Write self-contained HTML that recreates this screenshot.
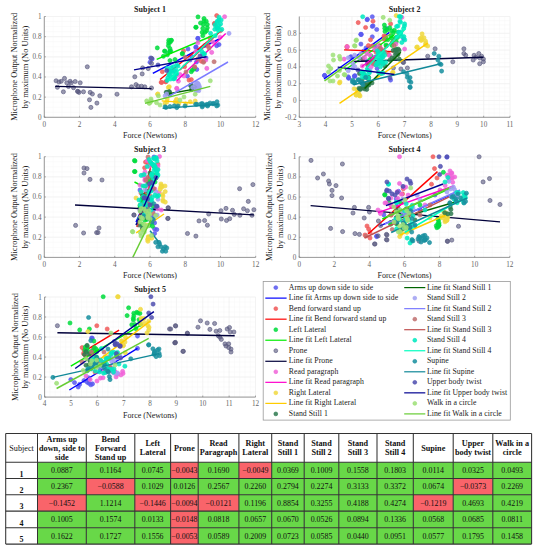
<!DOCTYPE html>
<html><head><meta charset="utf-8"><style>
html,body{margin:0;padding:0;background:#fff;width:538px;height:550px;overflow:hidden}
svg text{font-family:"Liberation Serif", serif}
.arms{fill:#5a5af0;fill-opacity:0.86;stroke:#5a5af0;stroke-opacity:0.9;stroke-width:0.7px}.bend{fill:#f05a5a;fill-opacity:0.86;stroke:#f05a5a;stroke-opacity:0.9;stroke-width:0.7px}.left{fill:#00dc3c;fill-opacity:0.86;stroke:#00dc3c;stroke-opacity:0.9;stroke-width:0.7px}.prone{fill:#5a5a80;fill-opacity:0.62;stroke:#5a5a80;stroke-opacity:0.9;stroke-width:0.7px}.read{fill:#f064d8;fill-opacity:0.86;stroke:#f064d8;stroke-opacity:0.9;stroke-width:0.7px}.right{fill:#f0d840;fill-opacity:0.86;stroke:#f0d840;stroke-opacity:0.9;stroke-width:0.7px}.ss1{fill:#2e7a50;fill-opacity:0.86;stroke:#2e7a50;stroke-opacity:0.9;stroke-width:0.7px}.ss2{fill:#a0a0f2;fill-opacity:0.86;stroke:#a0a0f2;stroke-opacity:0.9;stroke-width:0.7px}.ss3{fill:#c07070;fill-opacity:0.86;stroke:#c07070;stroke-opacity:0.9;stroke-width:0.7px}.ss4{fill:#00e8c0;fill-opacity:0.86;stroke:#00e8c0;stroke-opacity:0.9;stroke-width:0.7px}.sup{fill:#1a90a0;fill-opacity:0.86;stroke:#1a90a0;stroke-opacity:0.9;stroke-width:0.7px}.ubt{fill:#5050b0;fill-opacity:0.86;stroke:#5050b0;stroke-opacity:0.9;stroke-width:0.7px}.walk{fill:#9ee078;fill-opacity:0.86;stroke:#9ee078;stroke-opacity:0.9;stroke-width:0.7px}
</style></head><body>
<svg width="538" height="550" viewBox="0 0 538 550" style="position:absolute;left:0;top:0"><line x1="44.30" y1="16.5" x2="44.30" y2="117.3" stroke="#f6f6f6" stroke-width="0.5"/><line x1="53.11" y1="16.5" x2="53.11" y2="117.3" stroke="#f6f6f6" stroke-width="0.5"/><line x1="61.92" y1="16.5" x2="61.92" y2="117.3" stroke="#f6f6f6" stroke-width="0.5"/><line x1="70.72" y1="16.5" x2="70.72" y2="117.3" stroke="#f6f6f6" stroke-width="0.5"/><line x1="79.53" y1="16.5" x2="79.53" y2="117.3" stroke="#f6f6f6" stroke-width="0.5"/><line x1="88.34" y1="16.5" x2="88.34" y2="117.3" stroke="#f6f6f6" stroke-width="0.5"/><line x1="97.15" y1="16.5" x2="97.15" y2="117.3" stroke="#f6f6f6" stroke-width="0.5"/><line x1="105.96" y1="16.5" x2="105.96" y2="117.3" stroke="#f6f6f6" stroke-width="0.5"/><line x1="114.77" y1="16.5" x2="114.77" y2="117.3" stroke="#f6f6f6" stroke-width="0.5"/><line x1="123.57" y1="16.5" x2="123.57" y2="117.3" stroke="#f6f6f6" stroke-width="0.5"/><line x1="132.38" y1="16.5" x2="132.38" y2="117.3" stroke="#f6f6f6" stroke-width="0.5"/><line x1="141.19" y1="16.5" x2="141.19" y2="117.3" stroke="#f6f6f6" stroke-width="0.5"/><line x1="150.00" y1="16.5" x2="150.00" y2="117.3" stroke="#f6f6f6" stroke-width="0.5"/><line x1="158.81" y1="16.5" x2="158.81" y2="117.3" stroke="#f6f6f6" stroke-width="0.5"/><line x1="167.62" y1="16.5" x2="167.62" y2="117.3" stroke="#f6f6f6" stroke-width="0.5"/><line x1="176.43" y1="16.5" x2="176.43" y2="117.3" stroke="#f6f6f6" stroke-width="0.5"/><line x1="185.23" y1="16.5" x2="185.23" y2="117.3" stroke="#f6f6f6" stroke-width="0.5"/><line x1="194.04" y1="16.5" x2="194.04" y2="117.3" stroke="#f6f6f6" stroke-width="0.5"/><line x1="202.85" y1="16.5" x2="202.85" y2="117.3" stroke="#f6f6f6" stroke-width="0.5"/><line x1="211.66" y1="16.5" x2="211.66" y2="117.3" stroke="#f6f6f6" stroke-width="0.5"/><line x1="220.47" y1="16.5" x2="220.47" y2="117.3" stroke="#f6f6f6" stroke-width="0.5"/><line x1="229.27" y1="16.5" x2="229.27" y2="117.3" stroke="#f6f6f6" stroke-width="0.5"/><line x1="238.08" y1="16.5" x2="238.08" y2="117.3" stroke="#f6f6f6" stroke-width="0.5"/><line x1="246.89" y1="16.5" x2="246.89" y2="117.3" stroke="#f6f6f6" stroke-width="0.5"/><line x1="255.70" y1="16.5" x2="255.70" y2="117.3" stroke="#f6f6f6" stroke-width="0.5"/><line x1="44.3" y1="117.30" x2="255.7" y2="117.30" stroke="#f6f6f6" stroke-width="0.5"/><line x1="44.3" y1="112.26" x2="255.7" y2="112.26" stroke="#f6f6f6" stroke-width="0.5"/><line x1="44.3" y1="107.22" x2="255.7" y2="107.22" stroke="#f6f6f6" stroke-width="0.5"/><line x1="44.3" y1="102.18" x2="255.7" y2="102.18" stroke="#f6f6f6" stroke-width="0.5"/><line x1="44.3" y1="97.14" x2="255.7" y2="97.14" stroke="#f6f6f6" stroke-width="0.5"/><line x1="44.3" y1="92.10" x2="255.7" y2="92.10" stroke="#f6f6f6" stroke-width="0.5"/><line x1="44.3" y1="87.06" x2="255.7" y2="87.06" stroke="#f6f6f6" stroke-width="0.5"/><line x1="44.3" y1="82.02" x2="255.7" y2="82.02" stroke="#f6f6f6" stroke-width="0.5"/><line x1="44.3" y1="76.98" x2="255.7" y2="76.98" stroke="#f6f6f6" stroke-width="0.5"/><line x1="44.3" y1="71.94" x2="255.7" y2="71.94" stroke="#f6f6f6" stroke-width="0.5"/><line x1="44.3" y1="66.90" x2="255.7" y2="66.90" stroke="#f6f6f6" stroke-width="0.5"/><line x1="44.3" y1="61.86" x2="255.7" y2="61.86" stroke="#f6f6f6" stroke-width="0.5"/><line x1="44.3" y1="56.82" x2="255.7" y2="56.82" stroke="#f6f6f6" stroke-width="0.5"/><line x1="44.3" y1="51.78" x2="255.7" y2="51.78" stroke="#f6f6f6" stroke-width="0.5"/><line x1="44.3" y1="46.74" x2="255.7" y2="46.74" stroke="#f6f6f6" stroke-width="0.5"/><line x1="44.3" y1="41.70" x2="255.7" y2="41.70" stroke="#f6f6f6" stroke-width="0.5"/><line x1="44.3" y1="36.66" x2="255.7" y2="36.66" stroke="#f6f6f6" stroke-width="0.5"/><line x1="44.3" y1="31.62" x2="255.7" y2="31.62" stroke="#f6f6f6" stroke-width="0.5"/><line x1="44.3" y1="26.58" x2="255.7" y2="26.58" stroke="#f6f6f6" stroke-width="0.5"/><line x1="44.3" y1="21.54" x2="255.7" y2="21.54" stroke="#f6f6f6" stroke-width="0.5"/><line x1="44.3" y1="16.50" x2="255.7" y2="16.50" stroke="#f6f6f6" stroke-width="0.5"/><line x1="44.30" y1="16.5" x2="44.30" y2="117.3" stroke="#eeeeee" stroke-width="0.6"/><line x1="79.53" y1="16.5" x2="79.53" y2="117.3" stroke="#eeeeee" stroke-width="0.6"/><line x1="114.77" y1="16.5" x2="114.77" y2="117.3" stroke="#eeeeee" stroke-width="0.6"/><line x1="150.00" y1="16.5" x2="150.00" y2="117.3" stroke="#eeeeee" stroke-width="0.6"/><line x1="185.23" y1="16.5" x2="185.23" y2="117.3" stroke="#eeeeee" stroke-width="0.6"/><line x1="220.47" y1="16.5" x2="220.47" y2="117.3" stroke="#eeeeee" stroke-width="0.6"/><line x1="255.70" y1="16.5" x2="255.70" y2="117.3" stroke="#eeeeee" stroke-width="0.6"/><line x1="44.3" y1="117.30" x2="255.7" y2="117.30" stroke="#eeeeee" stroke-width="0.6"/><line x1="44.3" y1="97.14" x2="255.7" y2="97.14" stroke="#eeeeee" stroke-width="0.6"/><line x1="44.3" y1="76.98" x2="255.7" y2="76.98" stroke="#eeeeee" stroke-width="0.6"/><line x1="44.3" y1="56.82" x2="255.7" y2="56.82" stroke="#eeeeee" stroke-width="0.6"/><line x1="44.3" y1="36.66" x2="255.7" y2="36.66" stroke="#eeeeee" stroke-width="0.6"/><line x1="44.3" y1="16.50" x2="255.7" y2="16.50" stroke="#eeeeee" stroke-width="0.6"/><circle class="arms" cx="198.0" cy="38.4" r="2.05"/><circle class="arms" cx="188.0" cy="49.0" r="2.05"/><circle class="arms" cx="195.8" cy="47.4" r="2.05"/><circle class="arms" cx="150.6" cy="58.0" r="2.05"/><circle class="arms" cx="197.8" cy="38.4" r="2.05"/><circle class="arms" cx="216.7" cy="45.7" r="2.05"/><circle class="arms" cx="219.0" cy="44.6" r="2.05"/><circle class="arms" cx="196.1" cy="46.8" r="2.05"/><circle class="arms" cx="187.4" cy="76.2" r="2.05"/><circle class="arms" cx="196.8" cy="69.5" r="2.05"/><circle class="arms" cx="152.2" cy="58.9" r="2.05"/><circle class="arms" cx="150.0" cy="62.3" r="2.05"/><circle class="arms" cx="206.0" cy="58.0" r="2.05"/><circle class="arms" cx="190.0" cy="60.0" r="2.05"/><circle class="arms" cx="191.7" cy="56.4" r="2.05"/><circle class="arms" cx="205.0" cy="45.5" r="2.05"/><circle class="arms" cx="196.5" cy="62.0" r="2.05"/><line x1="152.8" y1="73.4" x2="219" y2="39" stroke="#0000ff" stroke-width="1.45"/><circle class="bend" cx="214.5" cy="23.4" r="2.05"/><circle class="bend" cx="216.7" cy="15.6" r="2.05"/><circle class="bend" cx="161.2" cy="82.3" r="2.05"/><circle class="bend" cx="165.6" cy="81.8" r="2.05"/><circle class="bend" cx="184.6" cy="66.7" r="2.05"/><circle class="bend" cx="189.0" cy="80.1" r="2.05"/><circle class="bend" cx="191.3" cy="79.6" r="2.05"/><circle class="bend" cx="162.3" cy="71.7" r="2.05"/><circle class="bend" cx="201.3" cy="61.2" r="2.05"/><circle class="bend" cx="161.7" cy="82.5" r="2.05"/><circle class="bend" cx="165.9" cy="81.7" r="2.05"/><circle class="bend" cx="210.0" cy="38.0" r="2.05"/><circle class="bend" cx="208.0" cy="46.0" r="2.05"/><circle class="bend" cx="194.6" cy="67.4" r="2.05"/><circle class="bend" cx="203.8" cy="61.3" r="2.05"/><circle class="bend" cx="183.5" cy="50.9" r="2.05"/><line x1="160" y1="79.5" x2="219.5" y2="32" stroke="#ff0000" stroke-width="1.45"/><circle class="left" cx="198.0" cy="16.9" r="2.05"/><circle class="left" cx="195.8" cy="27.3" r="2.05"/><circle class="left" cx="168.8" cy="40.3" r="2.05"/><circle class="left" cx="170.1" cy="42.3" r="2.05"/><circle class="left" cx="168.4" cy="45.7" r="2.05"/><circle class="left" cx="169.9" cy="48.5" r="2.05"/><circle class="left" cx="157.3" cy="47.9" r="2.05"/><circle class="left" cx="165.1" cy="51.3" r="2.05"/><circle class="left" cx="169.6" cy="51.8" r="2.05"/><circle class="left" cx="182.4" cy="53.5" r="2.05"/><circle class="left" cx="163.4" cy="56.3" r="2.05"/><circle class="left" cx="203.9" cy="21.2" r="2.05"/><circle class="left" cx="206.2" cy="21.2" r="2.05"/><circle class="left" cx="203.4" cy="24.5" r="2.05"/><circle class="left" cx="207.3" cy="24.5" r="2.05"/><circle class="left" cx="202.8" cy="28.4" r="2.05"/><circle class="left" cx="207.3" cy="27.8" r="2.05"/><circle class="left" cx="202.2" cy="32.3" r="2.05"/><circle class="left" cx="205.0" cy="32.3" r="2.05"/><circle class="left" cx="206.7" cy="30.6" r="2.05"/><circle class="left" cx="202.8" cy="35.7" r="2.05"/><circle class="left" cx="196.1" cy="27.3" r="2.05"/><circle class="left" cx="204.0" cy="18.5" r="2.05"/><circle class="left" cx="200.5" cy="23.0" r="2.05"/><circle class="left" cx="164.5" cy="51.1" r="2.05"/><circle class="left" cx="170.0" cy="51.7" r="2.05"/><circle class="left" cx="182.3" cy="53.9" r="2.05"/><circle class="left" cx="170.0" cy="60.6" r="2.05"/><circle class="left" cx="175.0" cy="59.5" r="2.05"/><circle class="left" cx="192.4" cy="70.0" r="2.05"/><circle class="left" cx="194.0" cy="69.0" r="2.05"/><circle class="left" cx="191.3" cy="71.7" r="2.05"/><circle class="left" cx="167.4" cy="54.7" r="2.05"/><circle class="left" cx="168.6" cy="42.9" r="2.05"/><circle class="left" cx="170.8" cy="51.1" r="2.05"/><circle class="left" cx="171.5" cy="40.3" r="2.05"/><circle class="left" cx="170.9" cy="40.4" r="2.05"/><line x1="156.7" y1="59.3" x2="213" y2="35.5" stroke="#00ee00" stroke-width="1.45"/><circle class="prone" cx="56.1" cy="80.8" r="2.05"/><circle class="prone" cx="57.4" cy="87.3" r="2.05"/><circle class="prone" cx="61.2" cy="81.3" r="2.05"/><circle class="prone" cx="64.5" cy="78.4" r="2.05"/><circle class="prone" cx="63.4" cy="91.8" r="2.05"/><circle class="prone" cx="66.8" cy="82.8" r="2.05"/><circle class="prone" cx="70.1" cy="81.3" r="2.05"/><circle class="prone" cx="71.2" cy="83.0" r="2.05"/><circle class="prone" cx="75.2" cy="81.5" r="2.05"/><circle class="prone" cx="73.5" cy="87.7" r="2.05"/><circle class="prone" cx="77.5" cy="91.3" r="2.05"/><circle class="prone" cx="80.2" cy="82.8" r="2.05"/><circle class="prone" cx="79.0" cy="92.4" r="2.05"/><circle class="prone" cx="83.5" cy="91.8" r="2.05"/><circle class="prone" cx="78.0" cy="91.5" r="2.05"/><circle class="prone" cx="87.3" cy="66.8" r="2.05"/><circle class="prone" cx="90.2" cy="92.4" r="2.05"/><circle class="prone" cx="92.4" cy="94.0" r="2.05"/><circle class="prone" cx="89.5" cy="99.8" r="2.05"/><circle class="prone" cx="90.9" cy="107.4" r="2.05"/><circle class="prone" cx="96.9" cy="103.1" r="2.05"/><circle class="prone" cx="99.8" cy="95.8" r="2.05"/><circle class="prone" cx="117.0" cy="94.2" r="2.05"/><circle class="prone" cx="131.5" cy="86.8" r="2.05"/><circle class="prone" cx="136.0" cy="84.6" r="2.05"/><circle class="prone" cx="138.1" cy="86.2" r="2.05"/><circle class="prone" cx="141.5" cy="86.2" r="2.05"/><circle class="prone" cx="144.8" cy="86.8" r="2.05"/><circle class="prone" cx="151.5" cy="88.0" r="2.05"/><circle class="prone" cx="134.8" cy="76.8" r="2.05"/><circle class="prone" cx="142.2" cy="73.9" r="2.05"/><circle class="prone" cx="142.6" cy="67.9" r="2.05"/><circle class="prone" cx="148.2" cy="68.6" r="2.05"/><circle class="prone" cx="151.5" cy="58.3" r="2.05"/><circle class="prone" cx="151.5" cy="63.4" r="2.05"/><circle class="prone" cx="68.5" cy="86.5" r="2.05"/><circle class="prone" cx="59.0" cy="82.0" r="2.05"/><line x1="55.2" y1="86.4" x2="151.5" y2="88.6" stroke="#00003a" stroke-width="1.45"/><circle class="read" cx="224.6" cy="16.7" r="2.05"/><circle class="read" cx="211.7" cy="52.4" r="2.05"/><circle class="read" cx="220.1" cy="37.3" r="2.05"/><circle class="read" cx="176.8" cy="75.6" r="2.05"/><circle class="read" cx="180.1" cy="74.5" r="2.05"/><circle class="read" cx="178.4" cy="81.2" r="2.05"/><circle class="read" cx="176.8" cy="88.5" r="2.05"/><circle class="read" cx="205.8" cy="60.0" r="2.05"/><circle class="read" cx="176.8" cy="88.4" r="2.05"/><circle class="read" cx="184.0" cy="76.0" r="2.05"/><circle class="read" cx="213.0" cy="42.0" r="2.05"/><circle class="read" cx="206.8" cy="68.4" r="2.05"/><circle class="read" cx="195.9" cy="51.6" r="2.05"/><circle class="read" cx="197.9" cy="42.8" r="2.05"/><line x1="176.8" y1="80.8" x2="225.7" y2="33.4" stroke="#ff00cc" stroke-width="1.45"/><circle class="right" cx="168.4" cy="87.4" r="2.05"/><circle class="right" cx="157.8" cy="94.0" r="2.05"/><circle class="right" cx="169.3" cy="86.7" r="2.05"/><circle class="right" cx="157.6" cy="94.2" r="2.05"/><circle class="right" cx="175.1" cy="101.7" r="2.05"/><circle class="right" cx="190.2" cy="101.7" r="2.05"/><circle class="right" cx="195.2" cy="101.0" r="2.05"/><circle class="right" cx="165.0" cy="103.4" r="2.05"/><circle class="right" cx="176.2" cy="102.1" r="2.05"/><circle class="right" cx="185.8" cy="103.9" r="2.05"/><circle class="right" cx="178.8" cy="103.4" r="2.05"/><circle class="right" cx="167.2" cy="99.0" r="2.05"/><circle class="right" cx="176.5" cy="99.4" r="2.05"/><circle class="right" cx="166.9" cy="101.9" r="2.05"/><line x1="161.7" y1="100.9" x2="198.5" y2="103.4" stroke="#ffcc00" stroke-width="1.45"/><circle class="ss1" cx="192.4" cy="87.9" r="2.05"/><circle class="ss1" cx="167.8" cy="92.4" r="2.05"/><circle class="ss1" cx="166.8" cy="92.5" r="2.05"/><circle class="ss1" cx="169.3" cy="91.7" r="2.05"/><circle class="ss1" cx="191.9" cy="87.5" r="2.05"/><circle class="ss1" cx="197.7" cy="89.2" r="2.05"/><circle class="ss1" cx="169.6" cy="93.9" r="2.05"/><circle class="ss1" cx="166.2" cy="92.3" r="2.05"/><circle class="ss1" cx="167.8" cy="93.3" r="2.05"/><circle class="ss1" cx="169.3" cy="91.8" r="2.05"/><circle class="ss1" cx="195.7" cy="86.4" r="2.05"/><circle class="ss1" cx="193.2" cy="88.0" r="2.05"/><circle class="ss1" cx="190.5" cy="85.4" r="2.05"/><circle class="ss1" cx="191.6" cy="89.6" r="2.05"/><circle class="ss1" cx="191.5" cy="85.3" r="2.05"/><line x1="165.9" y1="94.2" x2="198.5" y2="88.4" stroke="#006400" stroke-width="1.45"/><circle class="ss2" cx="229.0" cy="33.4" r="2.05"/><circle class="ss2" cx="198.0" cy="83.5" r="2.05"/><circle class="ss2" cx="199.0" cy="85.5" r="2.05"/><circle class="ss2" cx="165.1" cy="95.9" r="2.05"/><circle class="ss2" cx="192.7" cy="87.5" r="2.05"/><circle class="ss2" cx="195.2" cy="85.0" r="2.05"/><circle class="ss2" cx="196.7" cy="83.0" r="2.05"/><circle class="ss2" cx="166.7" cy="94.0" r="2.05"/><circle class="ss2" cx="198.0" cy="84.0" r="2.05"/><circle class="ss2" cx="198.5" cy="88.2" r="2.05"/><circle class="ss2" cx="196.2" cy="89.2" r="2.05"/><circle class="ss2" cx="199.6" cy="87.4" r="2.05"/><circle class="ss2" cx="196.1" cy="90.7" r="2.05"/><circle class="ss2" cx="198.8" cy="90.7" r="2.05"/><line x1="168.4" y1="96.7" x2="228" y2="62" stroke="#7b7bff" stroke-width="1.45"/><circle class="ss3" cx="220.6" cy="30.6" r="2.05"/><circle class="ss3" cx="214.5" cy="24.0" r="2.05"/><circle class="ss3" cx="194.6" cy="66.7" r="2.05"/><circle class="ss3" cx="203.5" cy="62.3" r="2.05"/><circle class="ss3" cx="209.0" cy="48.0" r="2.05"/><circle class="ss3" cx="186.0" cy="72.0" r="2.05"/><circle class="ss3" cx="197.9" cy="59.0" r="2.05"/><circle class="ss3" cx="214.1" cy="61.7" r="2.05"/><circle class="ss3" cx="185.2" cy="57.3" r="2.05"/><line x1="180" y1="70" x2="221" y2="30.6" stroke="#c05050" stroke-width="1.45"/><circle class="ss4" cx="219.0" cy="17.2" r="2.05"/><circle class="ss4" cx="219.0" cy="20.0" r="2.05"/><circle class="ss4" cx="217.3" cy="21.2" r="2.05"/><circle class="ss4" cx="221.2" cy="20.0" r="2.05"/><circle class="ss4" cx="215.1" cy="25.0" r="2.05"/><circle class="ss4" cx="219.0" cy="25.6" r="2.05"/><circle class="ss4" cx="216.7" cy="27.8" r="2.05"/><circle class="ss4" cx="220.6" cy="23.9" r="2.05"/><circle class="ss4" cx="210.6" cy="33.4" r="2.05"/><circle class="ss4" cx="215.1" cy="35.7" r="2.05"/><circle class="ss4" cx="201.7" cy="51.3" r="2.05"/><circle class="ss4" cx="203.9" cy="53.5" r="2.05"/><circle class="ss4" cx="171.2" cy="67.8" r="2.05"/><circle class="ss4" cx="173.4" cy="66.7" r="2.05"/><circle class="ss4" cx="169.5" cy="71.7" r="2.05"/><circle class="ss4" cx="172.3" cy="72.3" r="2.05"/><circle class="ss4" cx="170.0" cy="75.6" r="2.05"/><circle class="ss4" cx="173.4" cy="76.8" r="2.05"/><circle class="ss4" cx="170.6" cy="79.0" r="2.05"/><circle class="ss4" cx="174.5" cy="78.4" r="2.05"/><circle class="ss4" cx="167.8" cy="77.9" r="2.05"/><circle class="ss4" cx="202.4" cy="54.5" r="2.05"/><circle class="ss4" cx="204.5" cy="54.0" r="2.05"/><circle class="ss4" cx="176.0" cy="70.0" r="2.05"/><circle class="ss4" cx="178.0" cy="66.0" r="2.05"/><circle class="ss4" cx="176.0" cy="74.3" r="2.05"/><circle class="ss4" cx="174.5" cy="77.7" r="2.05"/><circle class="ss4" cx="174.0" cy="76.9" r="2.05"/><circle class="ss4" cx="168.8" cy="74.4" r="2.05"/><circle class="ss4" cx="173.6" cy="78.9" r="2.05"/><circle class="ss4" cx="167.1" cy="80.5" r="2.05"/><circle class="ss4" cx="167.1" cy="68.3" r="2.05"/><circle class="ss4" cx="176.6" cy="65.2" r="2.05"/><circle class="ss4" cx="169.3" cy="70.6" r="2.05"/><circle class="ss4" cx="176.6" cy="73.6" r="2.05"/><circle class="ss4" cx="174.7" cy="71.2" r="2.05"/><circle class="ss4" cx="171.1" cy="71.1" r="2.05"/><circle class="ss4" cx="218.2" cy="28.1" r="2.05"/><circle class="ss4" cx="217.1" cy="22.4" r="2.05"/><circle class="ss4" cx="218.3" cy="30.2" r="2.05"/><circle class="ss4" cx="217.4" cy="27.7" r="2.05"/><circle class="ss4" cx="221.8" cy="29.4" r="2.05"/><circle class="ss4" cx="214.8" cy="29.3" r="2.05"/><line x1="168.5" y1="80.5" x2="220.6" y2="29.5" stroke="#00ffc0" stroke-width="1.45"/><circle class="sup" cx="165.1" cy="106.8" r="2.05"/><circle class="sup" cx="174.3" cy="105.9" r="2.05"/><circle class="sup" cx="176.8" cy="107.6" r="2.05"/><circle class="sup" cx="196.9" cy="104.3" r="2.05"/><circle class="sup" cx="206.9" cy="104.3" r="2.05"/><circle class="sup" cx="213.6" cy="103.4" r="2.05"/><circle class="sup" cx="217.0" cy="101.7" r="2.05"/><circle class="sup" cx="217.8" cy="105.1" r="2.05"/><circle class="sup" cx="203.6" cy="105.1" r="2.05"/><circle class="sup" cx="210.0" cy="103.0" r="2.05"/><circle class="sup" cx="185.0" cy="106.0" r="2.05"/><circle class="sup" cx="166.0" cy="107.5" r="2.05"/><circle class="sup" cx="170.0" cy="106.5" r="2.05"/><circle class="sup" cx="178.0" cy="106.0" r="2.05"/><circle class="sup" cx="202.2" cy="106.9" r="2.05"/><circle class="sup" cx="206.7" cy="105.1" r="2.05"/><circle class="sup" cx="202.3" cy="103.6" r="2.05"/><circle class="sup" cx="207.6" cy="106.0" r="2.05"/><circle class="sup" cx="195.7" cy="104.3" r="2.05"/><circle class="sup" cx="201.0" cy="103.9" r="2.05"/><circle class="sup" cx="213.0" cy="103.8" r="2.05"/><circle class="sup" cx="202.1" cy="105.6" r="2.05"/><circle class="sup" cx="216.7" cy="105.9" r="2.05"/><circle class="sup" cx="208.5" cy="104.6" r="2.05"/><line x1="162.6" y1="108.4" x2="218.6" y2="104.3" stroke="#108898" stroke-width="1.45"/><circle class="ubt" cx="166.7" cy="70.6" r="2.05"/><circle class="ubt" cx="158.0" cy="65.0" r="2.05"/><circle class="ubt" cx="200.0" cy="56.0" r="2.05"/><line x1="134" y1="69.9" x2="206.5" y2="56.7" stroke="#000090" stroke-width="1.45"/><circle class="walk" cx="146.7" cy="100.9" r="2.05"/><circle class="walk" cx="150.0" cy="102.6" r="2.05"/><circle class="walk" cx="158.4" cy="95.9" r="2.05"/><circle class="walk" cx="180.0" cy="100.0" r="2.05"/><circle class="walk" cx="195.2" cy="94.2" r="2.05"/><circle class="walk" cx="210.3" cy="80.8" r="2.05"/><circle class="walk" cx="160.0" cy="105.0" r="2.05"/><circle class="walk" cx="184.0" cy="97.0" r="2.05"/><circle class="walk" cx="151.0" cy="99.0" r="2.05"/><circle class="walk" cx="151.4" cy="101.1" r="2.05"/><circle class="walk" cx="149.5" cy="102.1" r="2.05"/><circle class="walk" cx="149.6" cy="102.6" r="2.05"/><circle class="walk" cx="156.5" cy="102.7" r="2.05"/><circle class="walk" cx="149.2" cy="103.4" r="2.05"/><line x1="145" y1="103.4" x2="210.3" y2="86.4" stroke="#66cc33" stroke-width="1.45"/><path d="M44.3 16.5V117.3H255.7" fill="none" stroke="#949494" stroke-width="0.95"/><line x1="44.30" y1="117.3" x2="44.30" y2="115.8" stroke="#8a8a8a" stroke-width="0.8"/><text x="44.30" y="126.60" text-anchor="middle" font-size="7.2" fill="#666">0</text><line x1="79.53" y1="117.3" x2="79.53" y2="115.8" stroke="#8a8a8a" stroke-width="0.8"/><text x="79.53" y="126.60" text-anchor="middle" font-size="7.2" fill="#666">2</text><line x1="114.77" y1="117.3" x2="114.77" y2="115.8" stroke="#8a8a8a" stroke-width="0.8"/><text x="114.77" y="126.60" text-anchor="middle" font-size="7.2" fill="#666">4</text><line x1="150.00" y1="117.3" x2="150.00" y2="115.8" stroke="#8a8a8a" stroke-width="0.8"/><text x="150.00" y="126.60" text-anchor="middle" font-size="7.2" fill="#666">6</text><line x1="185.23" y1="117.3" x2="185.23" y2="115.8" stroke="#8a8a8a" stroke-width="0.8"/><text x="185.23" y="126.60" text-anchor="middle" font-size="7.2" fill="#666">8</text><line x1="220.47" y1="117.3" x2="220.47" y2="115.8" stroke="#8a8a8a" stroke-width="0.8"/><text x="220.47" y="126.60" text-anchor="middle" font-size="7.2" fill="#666">10</text><line x1="255.70" y1="117.3" x2="255.70" y2="115.8" stroke="#8a8a8a" stroke-width="0.8"/><text x="255.70" y="126.60" text-anchor="middle" font-size="7.2" fill="#666">12</text><line x1="44.3" y1="117.30" x2="45.8" y2="117.30" stroke="#8a8a8a" stroke-width="0.8"/><text x="41.50" y="119.80" text-anchor="end" font-size="7.2" fill="#666">0</text><line x1="44.3" y1="97.14" x2="45.8" y2="97.14" stroke="#8a8a8a" stroke-width="0.8"/><text x="41.50" y="99.64" text-anchor="end" font-size="7.2" fill="#666">0.2</text><line x1="44.3" y1="76.98" x2="45.8" y2="76.98" stroke="#8a8a8a" stroke-width="0.8"/><text x="41.50" y="79.48" text-anchor="end" font-size="7.2" fill="#666">0.4</text><line x1="44.3" y1="56.82" x2="45.8" y2="56.82" stroke="#8a8a8a" stroke-width="0.8"/><text x="41.50" y="59.32" text-anchor="end" font-size="7.2" fill="#666">0.6</text><line x1="44.3" y1="36.66" x2="45.8" y2="36.66" stroke="#8a8a8a" stroke-width="0.8"/><text x="41.50" y="39.16" text-anchor="end" font-size="7.2" fill="#666">0.8</text><line x1="44.3" y1="16.50" x2="45.8" y2="16.50" stroke="#8a8a8a" stroke-width="0.8"/><text x="41.50" y="19.00" text-anchor="end" font-size="7.2" fill="#666">1</text><text x="150.00" y="11.60" text-anchor="middle" font-size="8" font-weight="bold" fill="#222">Subject 1</text><text x="150.00" y="138.00" text-anchor="middle" font-size="8.0" fill="#222">Force (Newtons)</text><text transform="translate(17.40,66.90) rotate(-90)" text-anchor="middle" font-size="8.4" fill="#222">Microphone Output Normalized</text><text transform="translate(27.60,66.90) rotate(-90)" text-anchor="middle" font-size="8.4" fill="#222">by maximum (No Units)</text><line x1="299.30" y1="16.5" x2="299.30" y2="117.3" stroke="#f6f6f6" stroke-width="0.5"/><line x1="304.57" y1="16.5" x2="304.57" y2="117.3" stroke="#f6f6f6" stroke-width="0.5"/><line x1="309.84" y1="16.5" x2="309.84" y2="117.3" stroke="#f6f6f6" stroke-width="0.5"/><line x1="315.10" y1="16.5" x2="315.10" y2="117.3" stroke="#f6f6f6" stroke-width="0.5"/><line x1="320.37" y1="16.5" x2="320.37" y2="117.3" stroke="#f6f6f6" stroke-width="0.5"/><line x1="325.64" y1="16.5" x2="325.64" y2="117.3" stroke="#f6f6f6" stroke-width="0.5"/><line x1="330.91" y1="16.5" x2="330.91" y2="117.3" stroke="#f6f6f6" stroke-width="0.5"/><line x1="336.17" y1="16.5" x2="336.17" y2="117.3" stroke="#f6f6f6" stroke-width="0.5"/><line x1="341.44" y1="16.5" x2="341.44" y2="117.3" stroke="#f6f6f6" stroke-width="0.5"/><line x1="346.71" y1="16.5" x2="346.71" y2="117.3" stroke="#f6f6f6" stroke-width="0.5"/><line x1="351.98" y1="16.5" x2="351.98" y2="117.3" stroke="#f6f6f6" stroke-width="0.5"/><line x1="357.24" y1="16.5" x2="357.24" y2="117.3" stroke="#f6f6f6" stroke-width="0.5"/><line x1="362.51" y1="16.5" x2="362.51" y2="117.3" stroke="#f6f6f6" stroke-width="0.5"/><line x1="367.78" y1="16.5" x2="367.78" y2="117.3" stroke="#f6f6f6" stroke-width="0.5"/><line x1="373.05" y1="16.5" x2="373.05" y2="117.3" stroke="#f6f6f6" stroke-width="0.5"/><line x1="378.31" y1="16.5" x2="378.31" y2="117.3" stroke="#f6f6f6" stroke-width="0.5"/><line x1="383.58" y1="16.5" x2="383.58" y2="117.3" stroke="#f6f6f6" stroke-width="0.5"/><line x1="388.85" y1="16.5" x2="388.85" y2="117.3" stroke="#f6f6f6" stroke-width="0.5"/><line x1="394.12" y1="16.5" x2="394.12" y2="117.3" stroke="#f6f6f6" stroke-width="0.5"/><line x1="399.38" y1="16.5" x2="399.38" y2="117.3" stroke="#f6f6f6" stroke-width="0.5"/><line x1="404.65" y1="16.5" x2="404.65" y2="117.3" stroke="#f6f6f6" stroke-width="0.5"/><line x1="409.92" y1="16.5" x2="409.92" y2="117.3" stroke="#f6f6f6" stroke-width="0.5"/><line x1="415.19" y1="16.5" x2="415.19" y2="117.3" stroke="#f6f6f6" stroke-width="0.5"/><line x1="420.45" y1="16.5" x2="420.45" y2="117.3" stroke="#f6f6f6" stroke-width="0.5"/><line x1="425.72" y1="16.5" x2="425.72" y2="117.3" stroke="#f6f6f6" stroke-width="0.5"/><line x1="430.99" y1="16.5" x2="430.99" y2="117.3" stroke="#f6f6f6" stroke-width="0.5"/><line x1="436.25" y1="16.5" x2="436.25" y2="117.3" stroke="#f6f6f6" stroke-width="0.5"/><line x1="441.52" y1="16.5" x2="441.52" y2="117.3" stroke="#f6f6f6" stroke-width="0.5"/><line x1="446.79" y1="16.5" x2="446.79" y2="117.3" stroke="#f6f6f6" stroke-width="0.5"/><line x1="452.06" y1="16.5" x2="452.06" y2="117.3" stroke="#f6f6f6" stroke-width="0.5"/><line x1="457.32" y1="16.5" x2="457.32" y2="117.3" stroke="#f6f6f6" stroke-width="0.5"/><line x1="462.59" y1="16.5" x2="462.59" y2="117.3" stroke="#f6f6f6" stroke-width="0.5"/><line x1="467.86" y1="16.5" x2="467.86" y2="117.3" stroke="#f6f6f6" stroke-width="0.5"/><line x1="473.13" y1="16.5" x2="473.13" y2="117.3" stroke="#f6f6f6" stroke-width="0.5"/><line x1="478.39" y1="16.5" x2="478.39" y2="117.3" stroke="#f6f6f6" stroke-width="0.5"/><line x1="483.66" y1="16.5" x2="483.66" y2="117.3" stroke="#f6f6f6" stroke-width="0.5"/><line x1="488.93" y1="16.5" x2="488.93" y2="117.3" stroke="#f6f6f6" stroke-width="0.5"/><line x1="494.20" y1="16.5" x2="494.20" y2="117.3" stroke="#f6f6f6" stroke-width="0.5"/><line x1="499.47" y1="16.5" x2="499.47" y2="117.3" stroke="#f6f6f6" stroke-width="0.5"/><line x1="504.73" y1="16.5" x2="504.73" y2="117.3" stroke="#f6f6f6" stroke-width="0.5"/><line x1="510.00" y1="16.5" x2="510.00" y2="117.3" stroke="#f6f6f6" stroke-width="0.5"/><line x1="299.3" y1="117.30" x2="510.0" y2="117.30" stroke="#f6f6f6" stroke-width="0.5"/><line x1="299.3" y1="113.10" x2="510.0" y2="113.10" stroke="#f6f6f6" stroke-width="0.5"/><line x1="299.3" y1="108.90" x2="510.0" y2="108.90" stroke="#f6f6f6" stroke-width="0.5"/><line x1="299.3" y1="104.70" x2="510.0" y2="104.70" stroke="#f6f6f6" stroke-width="0.5"/><line x1="299.3" y1="100.50" x2="510.0" y2="100.50" stroke="#f6f6f6" stroke-width="0.5"/><line x1="299.3" y1="96.30" x2="510.0" y2="96.30" stroke="#f6f6f6" stroke-width="0.5"/><line x1="299.3" y1="92.10" x2="510.0" y2="92.10" stroke="#f6f6f6" stroke-width="0.5"/><line x1="299.3" y1="87.90" x2="510.0" y2="87.90" stroke="#f6f6f6" stroke-width="0.5"/><line x1="299.3" y1="83.70" x2="510.0" y2="83.70" stroke="#f6f6f6" stroke-width="0.5"/><line x1="299.3" y1="79.50" x2="510.0" y2="79.50" stroke="#f6f6f6" stroke-width="0.5"/><line x1="299.3" y1="75.30" x2="510.0" y2="75.30" stroke="#f6f6f6" stroke-width="0.5"/><line x1="299.3" y1="71.10" x2="510.0" y2="71.10" stroke="#f6f6f6" stroke-width="0.5"/><line x1="299.3" y1="66.90" x2="510.0" y2="66.90" stroke="#f6f6f6" stroke-width="0.5"/><line x1="299.3" y1="62.70" x2="510.0" y2="62.70" stroke="#f6f6f6" stroke-width="0.5"/><line x1="299.3" y1="58.50" x2="510.0" y2="58.50" stroke="#f6f6f6" stroke-width="0.5"/><line x1="299.3" y1="54.30" x2="510.0" y2="54.30" stroke="#f6f6f6" stroke-width="0.5"/><line x1="299.3" y1="50.10" x2="510.0" y2="50.10" stroke="#f6f6f6" stroke-width="0.5"/><line x1="299.3" y1="45.90" x2="510.0" y2="45.90" stroke="#f6f6f6" stroke-width="0.5"/><line x1="299.3" y1="41.70" x2="510.0" y2="41.70" stroke="#f6f6f6" stroke-width="0.5"/><line x1="299.3" y1="37.50" x2="510.0" y2="37.50" stroke="#f6f6f6" stroke-width="0.5"/><line x1="299.3" y1="33.30" x2="510.0" y2="33.30" stroke="#f6f6f6" stroke-width="0.5"/><line x1="299.3" y1="29.10" x2="510.0" y2="29.10" stroke="#f6f6f6" stroke-width="0.5"/><line x1="299.3" y1="24.90" x2="510.0" y2="24.90" stroke="#f6f6f6" stroke-width="0.5"/><line x1="299.3" y1="20.70" x2="510.0" y2="20.70" stroke="#f6f6f6" stroke-width="0.5"/><line x1="299.3" y1="16.50" x2="510.0" y2="16.50" stroke="#f6f6f6" stroke-width="0.5"/><line x1="299.30" y1="16.5" x2="299.30" y2="117.3" stroke="#eeeeee" stroke-width="0.6"/><line x1="325.64" y1="16.5" x2="325.64" y2="117.3" stroke="#eeeeee" stroke-width="0.6"/><line x1="351.98" y1="16.5" x2="351.98" y2="117.3" stroke="#eeeeee" stroke-width="0.6"/><line x1="378.31" y1="16.5" x2="378.31" y2="117.3" stroke="#eeeeee" stroke-width="0.6"/><line x1="404.65" y1="16.5" x2="404.65" y2="117.3" stroke="#eeeeee" stroke-width="0.6"/><line x1="430.99" y1="16.5" x2="430.99" y2="117.3" stroke="#eeeeee" stroke-width="0.6"/><line x1="457.32" y1="16.5" x2="457.32" y2="117.3" stroke="#eeeeee" stroke-width="0.6"/><line x1="483.66" y1="16.5" x2="483.66" y2="117.3" stroke="#eeeeee" stroke-width="0.6"/><line x1="510.00" y1="16.5" x2="510.00" y2="117.3" stroke="#eeeeee" stroke-width="0.6"/><line x1="299.3" y1="117.30" x2="510.0" y2="117.30" stroke="#eeeeee" stroke-width="0.6"/><line x1="299.3" y1="100.50" x2="510.0" y2="100.50" stroke="#eeeeee" stroke-width="0.6"/><line x1="299.3" y1="83.70" x2="510.0" y2="83.70" stroke="#eeeeee" stroke-width="0.6"/><line x1="299.3" y1="66.90" x2="510.0" y2="66.90" stroke="#eeeeee" stroke-width="0.6"/><line x1="299.3" y1="50.10" x2="510.0" y2="50.10" stroke="#eeeeee" stroke-width="0.6"/><line x1="299.3" y1="33.30" x2="510.0" y2="33.30" stroke="#eeeeee" stroke-width="0.6"/><line x1="299.3" y1="16.50" x2="510.0" y2="16.50" stroke="#eeeeee" stroke-width="0.6"/><circle class="arms" cx="367.1" cy="19.7" r="2.05"/><circle class="arms" cx="372.3" cy="16.7" r="2.05"/><circle class="arms" cx="361.2" cy="34.5" r="2.05"/><circle class="arms" cx="372.3" cy="36.8" r="2.05"/><circle class="arms" cx="372.3" cy="26.4" r="2.05"/><circle class="arms" cx="367.4" cy="19.3" r="2.05"/><circle class="arms" cx="373.0" cy="25.8" r="2.05"/><circle class="arms" cx="376.7" cy="29.5" r="2.05"/><circle class="arms" cx="360.9" cy="34.2" r="2.05"/><circle class="arms" cx="386.9" cy="28.6" r="2.05"/><circle class="arms" cx="403.6" cy="38.8" r="2.05"/><circle class="arms" cx="324.6" cy="75.4" r="2.05"/><circle class="arms" cx="348.8" cy="78.2" r="2.05"/><circle class="arms" cx="354.4" cy="76.4" r="2.05"/><circle class="arms" cx="390.6" cy="80.1" r="2.05"/><circle class="arms" cx="348.3" cy="76.8" r="2.05"/><circle class="arms" cx="355.0" cy="75.7" r="2.05"/><circle class="arms" cx="375.1" cy="64.5" r="2.05"/><circle class="arms" cx="377.5" cy="64.0" r="2.05"/><circle class="arms" cx="350.8" cy="56.8" r="2.05"/><circle class="arms" cx="366.0" cy="48.0" r="2.05"/><circle class="arms" cx="372.0" cy="58.0" r="2.05"/><circle class="arms" cx="361.0" cy="34.5" r="2.05"/><circle class="arms" cx="324.5" cy="75.5" r="2.05"/><circle class="arms" cx="348.5" cy="78.0" r="2.05"/><circle class="arms" cx="354.5" cy="76.0" r="2.05"/><circle class="arms" cx="351.0" cy="57.0" r="2.05"/><circle class="arms" cx="363.5" cy="51.2" r="2.05"/><circle class="arms" cx="375.1" cy="63.0" r="2.05"/><circle class="arms" cx="377.1" cy="68.5" r="2.05"/><circle class="arms" cx="375.3" cy="57.0" r="2.05"/><circle class="arms" cx="379.0" cy="62.7" r="2.05"/><circle class="arms" cx="381.0" cy="53.4" r="2.05"/><circle class="arms" cx="360.9" cy="44.1" r="2.05"/><circle class="arms" cx="368.2" cy="69.8" r="2.05"/><circle class="arms" cx="375.2" cy="46.2" r="2.05"/><circle class="arms" cx="367.1" cy="61.2" r="2.05"/><line x1="324" y1="79" x2="389.4" y2="32.3" stroke="#0000ff" stroke-width="1.45"/><circle class="bend" cx="358.2" cy="22.6" r="2.05"/><circle class="bend" cx="365.6" cy="27.5" r="2.05"/><circle class="bend" cx="373.0" cy="21.2" r="2.05"/><circle class="bend" cx="347.0" cy="47.2" r="2.05"/><circle class="bend" cx="390.6" cy="23.9" r="2.05"/><circle class="bend" cx="379.6" cy="45.6" r="2.05"/><circle class="bend" cx="388.5" cy="54.5" r="2.05"/><circle class="bend" cx="362.8" cy="59.0" r="2.05"/><circle class="bend" cx="384.0" cy="36.0" r="2.05"/><circle class="bend" cx="376.0" cy="52.0" r="2.05"/><circle class="bend" cx="347.0" cy="46.5" r="2.05"/><circle class="bend" cx="386.0" cy="39.1" r="2.05"/><circle class="bend" cx="370.5" cy="39.8" r="2.05"/><circle class="bend" cx="384.1" cy="39.2" r="2.05"/><circle class="bend" cx="385.3" cy="36.6" r="2.05"/><circle class="bend" cx="368.4" cy="45.6" r="2.05"/><circle class="bend" cx="372.0" cy="46.1" r="2.05"/><line x1="344.1" y1="49.9" x2="394.1" y2="51.7" stroke="#ff0000" stroke-width="1.45"/><circle class="left" cx="389.7" cy="27.7" r="2.05"/><circle class="left" cx="394.4" cy="30.4" r="2.05"/><circle class="left" cx="385.0" cy="31.4" r="2.05"/><circle class="left" cx="399.9" cy="34.2" r="2.05"/><circle class="left" cx="387.8" cy="39.7" r="2.05"/><circle class="left" cx="392.5" cy="42.5" r="2.05"/><circle class="left" cx="396.2" cy="49.0" r="2.05"/><circle class="left" cx="386.0" cy="45.0" r="2.05"/><circle class="left" cx="391.0" cy="36.0" r="2.05"/><circle class="left" cx="384.4" cy="25.1" r="2.05"/><circle class="left" cx="386.3" cy="45.9" r="2.05"/><circle class="left" cx="387.0" cy="29.9" r="2.05"/><circle class="left" cx="396.3" cy="41.7" r="2.05"/><circle class="left" cx="392.0" cy="45.4" r="2.05"/><circle class="left" cx="398.3" cy="32.3" r="2.05"/><circle class="left" cx="393.4" cy="32.8" r="2.05"/><circle class="left" cx="397.5" cy="37.4" r="2.05"/><circle class="left" cx="384.8" cy="28.3" r="2.05"/><circle class="left" cx="391.6" cy="38.2" r="2.05"/><circle class="left" cx="395.6" cy="37.8" r="2.05"/><circle class="left" cx="391.5" cy="30.8" r="2.05"/><circle class="left" cx="369.9" cy="59.7" r="2.05"/><circle class="left" cx="374.6" cy="61.8" r="2.05"/><circle class="left" cx="376.3" cy="62.7" r="2.05"/><circle class="left" cx="371.9" cy="59.0" r="2.05"/><circle class="left" cx="371.0" cy="56.0" r="2.05"/><line x1="345" y1="70" x2="394" y2="35" stroke="#00ee00" stroke-width="1.45"/><circle class="prone" cx="403.6" cy="62.4" r="2.05"/><circle class="prone" cx="400.9" cy="69.0" r="2.05"/><circle class="prone" cx="407.4" cy="68.0" r="2.05"/><circle class="prone" cx="393.4" cy="68.0" r="2.05"/><circle class="prone" cx="403.0" cy="62.3" r="2.05"/><circle class="prone" cx="435.1" cy="48.8" r="2.05"/><circle class="prone" cx="427.7" cy="56.2" r="2.05"/><circle class="prone" cx="452.8" cy="61.8" r="2.05"/><circle class="prone" cx="463.9" cy="48.8" r="2.05"/><circle class="prone" cx="463.9" cy="53.5" r="2.05"/><circle class="prone" cx="465.7" cy="55.3" r="2.05"/><circle class="prone" cx="474.1" cy="55.3" r="2.05"/><circle class="prone" cx="473.2" cy="60.0" r="2.05"/><circle class="prone" cx="478.8" cy="53.5" r="2.05"/><circle class="prone" cx="481.6" cy="56.2" r="2.05"/><circle class="prone" cx="483.4" cy="59.0" r="2.05"/><circle class="prone" cx="479.7" cy="63.7" r="2.05"/><circle class="prone" cx="483.4" cy="61.8" r="2.05"/><circle class="prone" cx="476.0" cy="57.2" r="2.05"/><circle class="prone" cx="480.0" cy="58.0" r="2.05"/><circle class="prone" cx="381.8" cy="61.9" r="2.05"/><circle class="prone" cx="368.3" cy="63.1" r="2.05"/><circle class="prone" cx="367.6" cy="65.0" r="2.05"/><circle class="prone" cx="362.8" cy="59.3" r="2.05"/><line x1="353.5" y1="61.5" x2="483.4" y2="57.2" stroke="#00003a" stroke-width="1.45"/><circle class="read" cx="344.1" cy="59.1" r="2.05"/><circle class="read" cx="401.8" cy="17.4" r="2.05"/><circle class="read" cx="404.6" cy="49.0" r="2.05"/><circle class="read" cx="378.5" cy="46.7" r="2.05"/><circle class="read" cx="347.2" cy="46.7" r="2.05"/><circle class="read" cx="371.2" cy="66.8" r="2.05"/><circle class="read" cx="389.6" cy="55.6" r="2.05"/><circle class="read" cx="370.0" cy="55.0" r="2.05"/><circle class="read" cx="396.0" cy="44.0" r="2.05"/><circle class="read" cx="374.9" cy="49.2" r="2.05"/><circle class="read" cx="374.0" cy="58.6" r="2.05"/><circle class="read" cx="362.3" cy="66.1" r="2.05"/><circle class="read" cx="367.0" cy="53.7" r="2.05"/><circle class="read" cx="379.9" cy="62.0" r="2.05"/><circle class="read" cx="381.4" cy="48.9" r="2.05"/><circle class="read" cx="374.7" cy="64.5" r="2.05"/><circle class="read" cx="364.6" cy="57.5" r="2.05"/><line x1="361.7" y1="66.8" x2="381.8" y2="51.2" stroke="#ff00cc" stroke-width="1.45"/><circle class="right" cx="396.2" cy="15.6" r="2.05"/><circle class="right" cx="416.7" cy="47.2" r="2.05"/><circle class="right" cx="339.5" cy="82.9" r="2.05"/><circle class="right" cx="358.1" cy="91.2" r="2.05"/><circle class="right" cx="359.0" cy="94.0" r="2.05"/><circle class="right" cx="392.5" cy="72.7" r="2.05"/><circle class="right" cx="393.0" cy="72.3" r="2.05"/><circle class="right" cx="357.3" cy="92.4" r="2.05"/><circle class="right" cx="422.1" cy="33.9" r="2.05"/><circle class="right" cx="423.9" cy="37.7" r="2.05"/><circle class="right" cx="421.2" cy="40.4" r="2.05"/><circle class="right" cx="425.8" cy="43.2" r="2.05"/><circle class="right" cx="427.7" cy="46.0" r="2.05"/><circle class="right" cx="417.4" cy="47.0" r="2.05"/><circle class="right" cx="356.0" cy="95.0" r="2.05"/><circle class="right" cx="360.0" cy="96.0" r="2.05"/><circle class="right" cx="340.0" cy="82.0" r="2.05"/><circle class="right" cx="358.6" cy="95.0" r="2.05"/><circle class="right" cx="357.5" cy="89.5" r="2.05"/><circle class="right" cx="359.3" cy="95.4" r="2.05"/><circle class="right" cx="356.3" cy="95.1" r="2.05"/><circle class="right" cx="354.2" cy="88.8" r="2.05"/><circle class="right" cx="420.1" cy="38.8" r="2.05"/><circle class="right" cx="421.8" cy="39.8" r="2.05"/><circle class="right" cx="425.5" cy="44.9" r="2.05"/><circle class="right" cx="421.4" cy="37.7" r="2.05"/><circle class="right" cx="425.5" cy="41.0" r="2.05"/><line x1="339.5" y1="103.3" x2="427.7" y2="43.2" stroke="#ffcc00" stroke-width="1.45"/><circle class="ss1" cx="396.2" cy="50.0" r="2.05"/><circle class="ss1" cx="398.0" cy="54.6" r="2.05"/><circle class="ss1" cx="394.4" cy="58.3" r="2.05"/><circle class="ss1" cx="363.7" cy="87.5" r="2.05"/><circle class="ss1" cx="364.6" cy="89.0" r="2.05"/><circle class="ss1" cx="372.0" cy="82.9" r="2.05"/><circle class="ss1" cx="361.8" cy="82.9" r="2.05"/><circle class="ss1" cx="359.5" cy="73.5" r="2.05"/><circle class="ss1" cx="362.0" cy="80.0" r="2.05"/><circle class="ss1" cx="365.0" cy="84.0" r="2.05"/><circle class="ss1" cx="367.3" cy="86.0" r="2.05"/><circle class="ss1" cx="360.0" cy="89.0" r="2.05"/><circle class="ss1" cx="395.2" cy="50.0" r="2.05"/><circle class="ss1" cx="396.5" cy="53.4" r="2.05"/><circle class="ss1" cx="390.0" cy="60.0" r="2.05"/><circle class="ss1" cx="385.0" cy="66.0" r="2.05"/><circle class="ss1" cx="362.2" cy="87.7" r="2.05"/><circle class="ss1" cx="364.5" cy="84.0" r="2.05"/><circle class="ss1" cx="360.6" cy="89.3" r="2.05"/><circle class="ss1" cx="359.1" cy="88.2" r="2.05"/><circle class="ss1" cx="368.7" cy="77.4" r="2.05"/><circle class="ss1" cx="369.0" cy="83.2" r="2.05"/><circle class="ss1" cx="368.4" cy="79.1" r="2.05"/><circle class="ss1" cx="368.9" cy="84.9" r="2.05"/><circle class="ss1" cx="367.7" cy="77.4" r="2.05"/><circle class="ss1" cx="366.7" cy="89.4" r="2.05"/><circle class="ss1" cx="392.0" cy="57.8" r="2.05"/><circle class="ss1" cx="399.2" cy="59.1" r="2.05"/><circle class="ss1" cx="398.2" cy="49.1" r="2.05"/><circle class="ss1" cx="399.1" cy="50.4" r="2.05"/><circle class="ss1" cx="395.4" cy="54.5" r="2.05"/><circle class="ss1" cx="393.2" cy="50.4" r="2.05"/><line x1="364.6" y1="88.5" x2="400.8" y2="52.3" stroke="#006400" stroke-width="1.45"/><circle class="ss2" cx="352.8" cy="67.9" r="2.05"/><circle class="ss2" cx="348.3" cy="57.8" r="2.05"/><circle class="ss2" cx="370.0" cy="70.0" r="2.05"/><circle class="ss2" cx="352.9" cy="63.5" r="2.05"/><circle class="ss2" cx="348.3" cy="70.8" r="2.05"/><circle class="ss2" cx="359.1" cy="57.5" r="2.05"/><circle class="ss2" cx="354.6" cy="55.2" r="2.05"/><circle class="ss2" cx="354.7" cy="66.6" r="2.05"/><circle class="ss2" cx="360.8" cy="53.7" r="2.05"/><circle class="ss3" cx="372.9" cy="63.4" r="2.05"/><circle class="ss3" cx="394.1" cy="45.6" r="2.05"/><circle class="ss3" cx="385.0" cy="52.0" r="2.05"/><circle class="ss3" cx="381.0" cy="50.2" r="2.05"/><circle class="ss3" cx="374.6" cy="63.2" r="2.05"/><circle class="ss3" cx="381.9" cy="52.6" r="2.05"/><circle class="ss3" cx="381.5" cy="62.8" r="2.05"/><circle class="ss3" cx="379.4" cy="49.4" r="2.05"/><circle class="ss3" cx="380.2" cy="48.4" r="2.05"/><line x1="366.5" y1="65.8" x2="403.6" y2="30.4" stroke="#c05050" stroke-width="1.45"/><circle class="ss4" cx="362.7" cy="16.7" r="2.05"/><circle class="ss4" cx="400.0" cy="21.2" r="2.05"/><circle class="ss4" cx="404.6" cy="23.9" r="2.05"/><circle class="ss4" cx="403.6" cy="28.6" r="2.05"/><circle class="ss4" cx="401.8" cy="42.5" r="2.05"/><circle class="ss4" cx="380.4" cy="54.6" r="2.05"/><circle class="ss4" cx="381.3" cy="58.3" r="2.05"/><circle class="ss4" cx="377.6" cy="63.9" r="2.05"/><circle class="ss4" cx="376.0" cy="65.0" r="2.05"/><circle class="ss4" cx="379.0" cy="61.0" r="2.05"/><circle class="ss4" cx="362.8" cy="73.6" r="2.05"/><circle class="ss4" cx="365.0" cy="75.0" r="2.05"/><circle class="ss4" cx="381.3" cy="73.6" r="2.05"/><circle class="ss4" cx="378.5" cy="52.3" r="2.05"/><circle class="ss4" cx="380.0" cy="55.0" r="2.05"/><circle class="ss4" cx="382.9" cy="57.0" r="2.05"/><circle class="ss4" cx="379.0" cy="60.0" r="2.05"/><circle class="ss4" cx="381.0" cy="62.0" r="2.05"/><circle class="ss4" cx="383.0" cy="64.0" r="2.05"/><circle class="ss4" cx="380.5" cy="66.8" r="2.05"/><circle class="ss4" cx="361.7" cy="72.3" r="2.05"/><circle class="ss4" cx="364.0" cy="74.0" r="2.05"/><circle class="ss4" cx="366.0" cy="76.0" r="2.05"/><circle class="ss4" cx="368.4" cy="78.0" r="2.05"/><circle class="ss4" cx="362.0" cy="77.0" r="2.05"/><circle class="ss4" cx="398.0" cy="26.0" r="2.05"/><circle class="ss4" cx="401.0" cy="32.0" r="2.05"/><circle class="ss4" cx="397.0" cy="37.0" r="2.05"/><circle class="ss4" cx="400.6" cy="33.2" r="2.05"/><circle class="ss4" cx="396.6" cy="26.5" r="2.05"/><circle class="ss4" cx="399.3" cy="16.5" r="2.05"/><circle class="ss4" cx="404.8" cy="39.9" r="2.05"/><circle class="ss4" cx="400.4" cy="22.3" r="2.05"/><circle class="ss4" cx="404.4" cy="26.0" r="2.05"/><circle class="ss4" cx="398.8" cy="32.3" r="2.05"/><circle class="ss4" cx="400.6" cy="16.7" r="2.05"/><circle class="ss4" cx="403.9" cy="36.6" r="2.05"/><circle class="ss4" cx="401.7" cy="36.5" r="2.05"/><circle class="ss4" cx="378.0" cy="54.4" r="2.05"/><circle class="ss4" cx="383.5" cy="52.7" r="2.05"/><circle class="ss4" cx="383.0" cy="73.1" r="2.05"/><circle class="ss4" cx="382.6" cy="57.0" r="2.05"/><circle class="ss4" cx="382.3" cy="62.1" r="2.05"/><circle class="ss4" cx="385.7" cy="62.2" r="2.05"/><circle class="ss4" cx="378.6" cy="72.5" r="2.05"/><circle class="ss4" cx="380.2" cy="54.0" r="2.05"/><circle class="ss4" cx="377.0" cy="57.5" r="2.05"/><circle class="ss4" cx="384.7" cy="55.2" r="2.05"/><circle class="ss4" cx="377.2" cy="50.8" r="2.05"/><circle class="ss4" cx="377.1" cy="62.8" r="2.05"/><circle class="ss4" cx="369.4" cy="71.8" r="2.05"/><circle class="ss4" cx="369.3" cy="72.9" r="2.05"/><circle class="ss4" cx="364.7" cy="77.4" r="2.05"/><circle class="ss4" cx="367.4" cy="70.3" r="2.05"/><circle class="ss4" cx="362.8" cy="72.4" r="2.05"/><line x1="365.1" y1="69" x2="405.5" y2="28.6" stroke="#00ffc0" stroke-width="1.45"/><circle class="sup" cx="354.4" cy="82.9" r="2.05"/><circle class="sup" cx="362.8" cy="84.7" r="2.05"/><circle class="sup" cx="403.6" cy="71.7" r="2.05"/><circle class="sup" cx="407.4" cy="77.3" r="2.05"/><circle class="sup" cx="409.2" cy="81.0" r="2.05"/><circle class="sup" cx="410.1" cy="87.5" r="2.05"/><circle class="sup" cx="407.0" cy="74.0" r="2.05"/><circle class="sup" cx="434.2" cy="53.5" r="2.05"/><circle class="sup" cx="438.8" cy="56.2" r="2.05"/><circle class="sup" cx="437.9" cy="60.0" r="2.05"/><circle class="sup" cx="439.7" cy="63.7" r="2.05"/><circle class="sup" cx="441.0" cy="64.5" r="2.05"/><circle class="sup" cx="441.6" cy="71.1" r="2.05"/><circle class="sup" cx="410.0" cy="77.6" r="2.05"/><circle class="sup" cx="410.9" cy="82.3" r="2.05"/><circle class="sup" cx="410.0" cy="86.9" r="2.05"/><circle class="sup" cx="353.9" cy="82.4" r="2.05"/><circle class="sup" cx="361.7" cy="82.4" r="2.05"/><circle class="sup" cx="358.0" cy="80.0" r="2.05"/><circle class="sup" cx="354.5" cy="82.4" r="2.05"/><circle class="sup" cx="365.7" cy="77.4" r="2.05"/><circle class="sup" cx="352.4" cy="81.9" r="2.05"/><circle class="sup" cx="360.7" cy="82.3" r="2.05"/><circle class="sup" cx="358.6" cy="79.7" r="2.05"/><circle class="sup" cx="352.7" cy="80.3" r="2.05"/><line x1="353.5" y1="84.7" x2="440.7" y2="63.7" stroke="#108898" stroke-width="1.45"/><circle class="ubt" cx="358.0" cy="70.0" r="2.05"/><circle class="ubt" cx="390.0" cy="78.0" r="2.05"/><line x1="337.7" y1="67.1" x2="394.4" y2="74.5" stroke="#000090" stroke-width="1.45"/><circle class="walk" cx="356.0" cy="40.5" r="2.05"/><circle class="walk" cx="354.5" cy="45.7" r="2.05"/><circle class="walk" cx="333.0" cy="55.0" r="2.05"/><circle class="walk" cx="333.5" cy="60.0" r="2.05"/><circle class="walk" cx="328.5" cy="66.0" r="2.05"/><circle class="walk" cx="328.5" cy="72.0" r="2.05"/><circle class="walk" cx="330.0" cy="81.0" r="2.05"/><circle class="walk" cx="333.0" cy="81.0" r="2.05"/><circle class="walk" cx="345.0" cy="75.0" r="2.05"/><circle class="walk" cx="355.0" cy="46.0" r="2.05"/><circle class="walk" cx="356.5" cy="40.0" r="2.05"/><circle class="walk" cx="337.5" cy="76.0" r="2.05"/><circle class="walk" cx="383.2" cy="17.4" r="2.05"/><circle class="walk" cx="389.7" cy="20.2" r="2.05"/><circle class="walk" cx="344.2" cy="74.5" r="2.05"/><circle class="walk" cx="340.2" cy="59.2" r="2.05"/><circle class="walk" cx="339.5" cy="56.4" r="2.05"/><circle class="walk" cx="330.8" cy="68.6" r="2.05"/><circle class="walk" cx="339.5" cy="70.6" r="2.05"/><line x1="324.5" y1="80.8" x2="391" y2="33.5" stroke="#66cc33" stroke-width="1.45"/><path d="M299.3 16.5V117.3H510.0" fill="none" stroke="#949494" stroke-width="0.95"/><line x1="299.30" y1="117.3" x2="299.30" y2="115.8" stroke="#8a8a8a" stroke-width="0.8"/><text x="299.30" y="126.60" text-anchor="middle" font-size="7.2" fill="#666">3</text><line x1="325.64" y1="117.3" x2="325.64" y2="115.8" stroke="#8a8a8a" stroke-width="0.8"/><text x="325.64" y="126.60" text-anchor="middle" font-size="7.2" fill="#666">4</text><line x1="351.98" y1="117.3" x2="351.98" y2="115.8" stroke="#8a8a8a" stroke-width="0.8"/><text x="351.98" y="126.60" text-anchor="middle" font-size="7.2" fill="#666">5</text><line x1="378.31" y1="117.3" x2="378.31" y2="115.8" stroke="#8a8a8a" stroke-width="0.8"/><text x="378.31" y="126.60" text-anchor="middle" font-size="7.2" fill="#666">6</text><line x1="404.65" y1="117.3" x2="404.65" y2="115.8" stroke="#8a8a8a" stroke-width="0.8"/><text x="404.65" y="126.60" text-anchor="middle" font-size="7.2" fill="#666">7</text><line x1="430.99" y1="117.3" x2="430.99" y2="115.8" stroke="#8a8a8a" stroke-width="0.8"/><text x="430.99" y="126.60" text-anchor="middle" font-size="7.2" fill="#666">8</text><line x1="457.32" y1="117.3" x2="457.32" y2="115.8" stroke="#8a8a8a" stroke-width="0.8"/><text x="457.32" y="126.60" text-anchor="middle" font-size="7.2" fill="#666">9</text><line x1="483.66" y1="117.3" x2="483.66" y2="115.8" stroke="#8a8a8a" stroke-width="0.8"/><text x="483.66" y="126.60" text-anchor="middle" font-size="7.2" fill="#666">10</text><line x1="510.00" y1="117.3" x2="510.00" y2="115.8" stroke="#8a8a8a" stroke-width="0.8"/><text x="510.00" y="126.60" text-anchor="middle" font-size="7.2" fill="#666">11</text><line x1="299.3" y1="117.30" x2="300.8" y2="117.30" stroke="#8a8a8a" stroke-width="0.8"/><text x="296.50" y="119.80" text-anchor="end" font-size="7.2" fill="#666">-0.2</text><line x1="299.3" y1="100.50" x2="300.8" y2="100.50" stroke="#8a8a8a" stroke-width="0.8"/><text x="296.50" y="103.00" text-anchor="end" font-size="7.2" fill="#666">0</text><line x1="299.3" y1="83.70" x2="300.8" y2="83.70" stroke="#8a8a8a" stroke-width="0.8"/><text x="296.50" y="86.20" text-anchor="end" font-size="7.2" fill="#666">0.2</text><line x1="299.3" y1="66.90" x2="300.8" y2="66.90" stroke="#8a8a8a" stroke-width="0.8"/><text x="296.50" y="69.40" text-anchor="end" font-size="7.2" fill="#666">0.4</text><line x1="299.3" y1="50.10" x2="300.8" y2="50.10" stroke="#8a8a8a" stroke-width="0.8"/><text x="296.50" y="52.60" text-anchor="end" font-size="7.2" fill="#666">0.6</text><line x1="299.3" y1="33.30" x2="300.8" y2="33.30" stroke="#8a8a8a" stroke-width="0.8"/><text x="296.50" y="35.80" text-anchor="end" font-size="7.2" fill="#666">0.8</text><text x="404.65" y="11.60" text-anchor="middle" font-size="8" font-weight="bold" fill="#222">Subject 2</text><text x="404.65" y="138.00" text-anchor="middle" font-size="8.0" fill="#222">Force (Newtons)</text><text transform="translate(270.30,66.90) rotate(-90)" text-anchor="middle" font-size="8.4" fill="#222">Microphone Output Normalized</text><text transform="translate(280.50,66.90) rotate(-90)" text-anchor="middle" font-size="8.4" fill="#222">by maximum (No Units)</text><line x1="44.30" y1="156.7" x2="44.30" y2="257.4" stroke="#f6f6f6" stroke-width="0.5"/><line x1="53.11" y1="156.7" x2="53.11" y2="257.4" stroke="#f6f6f6" stroke-width="0.5"/><line x1="61.92" y1="156.7" x2="61.92" y2="257.4" stroke="#f6f6f6" stroke-width="0.5"/><line x1="70.72" y1="156.7" x2="70.72" y2="257.4" stroke="#f6f6f6" stroke-width="0.5"/><line x1="79.53" y1="156.7" x2="79.53" y2="257.4" stroke="#f6f6f6" stroke-width="0.5"/><line x1="88.34" y1="156.7" x2="88.34" y2="257.4" stroke="#f6f6f6" stroke-width="0.5"/><line x1="97.15" y1="156.7" x2="97.15" y2="257.4" stroke="#f6f6f6" stroke-width="0.5"/><line x1="105.96" y1="156.7" x2="105.96" y2="257.4" stroke="#f6f6f6" stroke-width="0.5"/><line x1="114.77" y1="156.7" x2="114.77" y2="257.4" stroke="#f6f6f6" stroke-width="0.5"/><line x1="123.57" y1="156.7" x2="123.57" y2="257.4" stroke="#f6f6f6" stroke-width="0.5"/><line x1="132.38" y1="156.7" x2="132.38" y2="257.4" stroke="#f6f6f6" stroke-width="0.5"/><line x1="141.19" y1="156.7" x2="141.19" y2="257.4" stroke="#f6f6f6" stroke-width="0.5"/><line x1="150.00" y1="156.7" x2="150.00" y2="257.4" stroke="#f6f6f6" stroke-width="0.5"/><line x1="158.81" y1="156.7" x2="158.81" y2="257.4" stroke="#f6f6f6" stroke-width="0.5"/><line x1="167.62" y1="156.7" x2="167.62" y2="257.4" stroke="#f6f6f6" stroke-width="0.5"/><line x1="176.43" y1="156.7" x2="176.43" y2="257.4" stroke="#f6f6f6" stroke-width="0.5"/><line x1="185.23" y1="156.7" x2="185.23" y2="257.4" stroke="#f6f6f6" stroke-width="0.5"/><line x1="194.04" y1="156.7" x2="194.04" y2="257.4" stroke="#f6f6f6" stroke-width="0.5"/><line x1="202.85" y1="156.7" x2="202.85" y2="257.4" stroke="#f6f6f6" stroke-width="0.5"/><line x1="211.66" y1="156.7" x2="211.66" y2="257.4" stroke="#f6f6f6" stroke-width="0.5"/><line x1="220.47" y1="156.7" x2="220.47" y2="257.4" stroke="#f6f6f6" stroke-width="0.5"/><line x1="229.27" y1="156.7" x2="229.27" y2="257.4" stroke="#f6f6f6" stroke-width="0.5"/><line x1="238.08" y1="156.7" x2="238.08" y2="257.4" stroke="#f6f6f6" stroke-width="0.5"/><line x1="246.89" y1="156.7" x2="246.89" y2="257.4" stroke="#f6f6f6" stroke-width="0.5"/><line x1="255.70" y1="156.7" x2="255.70" y2="257.4" stroke="#f6f6f6" stroke-width="0.5"/><line x1="44.3" y1="257.40" x2="255.7" y2="257.40" stroke="#f6f6f6" stroke-width="0.5"/><line x1="44.3" y1="252.36" x2="255.7" y2="252.36" stroke="#f6f6f6" stroke-width="0.5"/><line x1="44.3" y1="247.33" x2="255.7" y2="247.33" stroke="#f6f6f6" stroke-width="0.5"/><line x1="44.3" y1="242.29" x2="255.7" y2="242.29" stroke="#f6f6f6" stroke-width="0.5"/><line x1="44.3" y1="237.26" x2="255.7" y2="237.26" stroke="#f6f6f6" stroke-width="0.5"/><line x1="44.3" y1="232.22" x2="255.7" y2="232.22" stroke="#f6f6f6" stroke-width="0.5"/><line x1="44.3" y1="227.19" x2="255.7" y2="227.19" stroke="#f6f6f6" stroke-width="0.5"/><line x1="44.3" y1="222.15" x2="255.7" y2="222.15" stroke="#f6f6f6" stroke-width="0.5"/><line x1="44.3" y1="217.12" x2="255.7" y2="217.12" stroke="#f6f6f6" stroke-width="0.5"/><line x1="44.3" y1="212.08" x2="255.7" y2="212.08" stroke="#f6f6f6" stroke-width="0.5"/><line x1="44.3" y1="207.05" x2="255.7" y2="207.05" stroke="#f6f6f6" stroke-width="0.5"/><line x1="44.3" y1="202.01" x2="255.7" y2="202.01" stroke="#f6f6f6" stroke-width="0.5"/><line x1="44.3" y1="196.98" x2="255.7" y2="196.98" stroke="#f6f6f6" stroke-width="0.5"/><line x1="44.3" y1="191.94" x2="255.7" y2="191.94" stroke="#f6f6f6" stroke-width="0.5"/><line x1="44.3" y1="186.91" x2="255.7" y2="186.91" stroke="#f6f6f6" stroke-width="0.5"/><line x1="44.3" y1="181.88" x2="255.7" y2="181.88" stroke="#f6f6f6" stroke-width="0.5"/><line x1="44.3" y1="176.84" x2="255.7" y2="176.84" stroke="#f6f6f6" stroke-width="0.5"/><line x1="44.3" y1="171.80" x2="255.7" y2="171.80" stroke="#f6f6f6" stroke-width="0.5"/><line x1="44.3" y1="166.77" x2="255.7" y2="166.77" stroke="#f6f6f6" stroke-width="0.5"/><line x1="44.3" y1="161.73" x2="255.7" y2="161.73" stroke="#f6f6f6" stroke-width="0.5"/><line x1="44.3" y1="156.70" x2="255.7" y2="156.70" stroke="#f6f6f6" stroke-width="0.5"/><line x1="44.30" y1="156.7" x2="44.30" y2="257.4" stroke="#eeeeee" stroke-width="0.6"/><line x1="79.53" y1="156.7" x2="79.53" y2="257.4" stroke="#eeeeee" stroke-width="0.6"/><line x1="114.77" y1="156.7" x2="114.77" y2="257.4" stroke="#eeeeee" stroke-width="0.6"/><line x1="150.00" y1="156.7" x2="150.00" y2="257.4" stroke="#eeeeee" stroke-width="0.6"/><line x1="185.23" y1="156.7" x2="185.23" y2="257.4" stroke="#eeeeee" stroke-width="0.6"/><line x1="220.47" y1="156.7" x2="220.47" y2="257.4" stroke="#eeeeee" stroke-width="0.6"/><line x1="255.70" y1="156.7" x2="255.70" y2="257.4" stroke="#eeeeee" stroke-width="0.6"/><line x1="44.3" y1="257.40" x2="255.7" y2="257.40" stroke="#eeeeee" stroke-width="0.6"/><line x1="44.3" y1="237.26" x2="255.7" y2="237.26" stroke="#eeeeee" stroke-width="0.6"/><line x1="44.3" y1="217.12" x2="255.7" y2="217.12" stroke="#eeeeee" stroke-width="0.6"/><line x1="44.3" y1="196.98" x2="255.7" y2="196.98" stroke="#eeeeee" stroke-width="0.6"/><line x1="44.3" y1="176.84" x2="255.7" y2="176.84" stroke="#eeeeee" stroke-width="0.6"/><line x1="44.3" y1="156.70" x2="255.7" y2="156.70" stroke="#eeeeee" stroke-width="0.6"/><circle class="arms" cx="154.0" cy="157.0" r="2.05"/><circle class="arms" cx="153.5" cy="220.6" r="2.05"/><circle class="arms" cx="154.6" cy="222.9" r="2.05"/><circle class="arms" cx="154.6" cy="229.0" r="2.05"/><circle class="arms" cx="156.8" cy="229.6" r="2.05"/><circle class="arms" cx="154.6" cy="233.5" r="2.05"/><circle class="arms" cx="140.0" cy="190.0" r="2.05"/><circle class="arms" cx="150.0" cy="200.0" r="2.05"/><circle class="arms" cx="150.2" cy="186.6" r="2.05"/><circle class="arms" cx="154.1" cy="209.3" r="2.05"/><circle class="arms" cx="148.9" cy="203.9" r="2.05"/><circle class="arms" cx="149.4" cy="190.2" r="2.05"/><circle class="arms" cx="151.7" cy="216.5" r="2.05"/><circle class="arms" cx="143.8" cy="207.1" r="2.05"/><circle class="arms" cx="142.5" cy="203.3" r="2.05"/><circle class="arms" cx="145.7" cy="209.3" r="2.05"/><line x1="136" y1="222" x2="155" y2="180" stroke="#0000ff" stroke-width="1.45"/><circle class="bend" cx="148.0" cy="163.5" r="2.05"/><circle class="bend" cx="141.0" cy="193.0" r="2.05"/><circle class="bend" cx="150.0" cy="175.0" r="2.05"/><circle class="bend" cx="145.0" cy="210.0" r="2.05"/><circle class="bend" cx="151.6" cy="178.1" r="2.05"/><circle class="bend" cx="143.6" cy="198.1" r="2.05"/><circle class="bend" cx="144.4" cy="195.2" r="2.05"/><circle class="bend" cx="144.6" cy="167.8" r="2.05"/><circle class="bend" cx="157.9" cy="164.2" r="2.05"/><circle class="bend" cx="145.5" cy="162.1" r="2.05"/><line x1="137" y1="227" x2="152" y2="161" stroke="#ff0000" stroke-width="1.45"/><circle class="left" cx="135.0" cy="161.0" r="2.05"/><circle class="left" cx="135.0" cy="171.6" r="2.05"/><circle class="left" cx="134.5" cy="160.5" r="2.05"/><circle class="left" cx="134.5" cy="171.5" r="2.05"/><circle class="left" cx="154.0" cy="166.0" r="2.05"/><circle class="left" cx="150.0" cy="200.0" r="2.05"/><circle class="left" cx="153.0" cy="206.0" r="2.05"/><circle class="left" cx="148.0" cy="212.0" r="2.05"/><circle class="left" cx="152.0" cy="190.0" r="2.05"/><circle class="left" cx="155.0" cy="182.0" r="2.05"/><circle class="left" cx="146.0" cy="196.0" r="2.05"/><circle class="left" cx="142.7" cy="197.5" r="2.05"/><circle class="left" cx="147.4" cy="207.3" r="2.05"/><circle class="left" cx="140.0" cy="207.5" r="2.05"/><circle class="left" cx="141.6" cy="200.7" r="2.05"/><circle class="left" cx="142.3" cy="199.0" r="2.05"/><circle class="left" cx="146.9" cy="219.4" r="2.05"/><circle class="left" cx="139.7" cy="219.1" r="2.05"/><circle class="left" cx="148.8" cy="225.5" r="2.05"/><circle class="left" cx="144.1" cy="200.1" r="2.05"/><circle class="left" cx="140.0" cy="205.2" r="2.05"/><circle class="left" cx="144.6" cy="209.8" r="2.05"/><circle class="left" cx="146.7" cy="209.4" r="2.05"/><circle class="left" cx="150.4" cy="199.3" r="2.05"/><circle class="left" cx="151.3" cy="222.8" r="2.05"/><circle class="left" cx="141.7" cy="224.1" r="2.05"/><circle class="left" cx="145.2" cy="198.6" r="2.05"/><circle class="left" cx="144.7" cy="220.2" r="2.05"/><circle class="left" cx="152.5" cy="226.3" r="2.05"/><circle class="left" cx="149.5" cy="179.6" r="2.05"/><circle class="left" cx="153.7" cy="177.5" r="2.05"/><circle class="left" cx="154.7" cy="175.0" r="2.05"/><circle class="left" cx="155.6" cy="169.1" r="2.05"/><circle class="left" cx="153.6" cy="165.6" r="2.05"/><circle class="left" cx="156.1" cy="177.9" r="2.05"/><circle class="left" cx="150.8" cy="181.7" r="2.05"/><circle class="left" cx="147.6" cy="181.5" r="2.05"/><line x1="134.5" y1="182" x2="146" y2="188" stroke="#00ee00" stroke-width="1.45"/><circle class="prone" cx="84.0" cy="168.0" r="2.05"/><circle class="prone" cx="87.0" cy="168.6" r="2.05"/><circle class="prone" cx="84.0" cy="173.0" r="2.05"/><circle class="prone" cx="90.0" cy="179.4" r="2.05"/><circle class="prone" cx="102.0" cy="180.0" r="2.05"/><circle class="prone" cx="75.6" cy="225.4" r="2.05"/><circle class="prone" cx="83.6" cy="233.0" r="2.05"/><circle class="prone" cx="96.6" cy="232.6" r="2.05"/><circle class="prone" cx="98.0" cy="232.6" r="2.05"/><circle class="prone" cx="99.0" cy="228.0" r="2.05"/><circle class="prone" cx="134.0" cy="215.0" r="2.05"/><circle class="prone" cx="133.9" cy="215.0" r="2.05"/><circle class="prone" cx="168.0" cy="207.8" r="2.05"/><circle class="prone" cx="168.0" cy="218.4" r="2.05"/><circle class="prone" cx="168.4" cy="207.9" r="2.05"/><circle class="prone" cx="167.8" cy="218.5" r="2.05"/><circle class="prone" cx="187.5" cy="233.5" r="2.05"/><circle class="prone" cx="195.9" cy="236.1" r="2.05"/><circle class="prone" cx="199.0" cy="220.9" r="2.05"/><circle class="prone" cx="204.6" cy="220.5" r="2.05"/><circle class="prone" cx="207.4" cy="225.2" r="2.05"/><circle class="prone" cx="208.7" cy="214.0" r="2.05"/><circle class="prone" cx="221.0" cy="210.7" r="2.05"/><circle class="prone" cx="226.0" cy="208.4" r="2.05"/><circle class="prone" cx="221.3" cy="219.0" r="2.05"/><circle class="prone" cx="226.5" cy="220.5" r="2.05"/><circle class="prone" cx="229.7" cy="218.7" r="2.05"/><circle class="prone" cx="232.5" cy="210.3" r="2.05"/><circle class="prone" cx="234.3" cy="214.4" r="2.05"/><circle class="prone" cx="239.9" cy="215.3" r="2.05"/><circle class="prone" cx="243.6" cy="208.8" r="2.05"/><circle class="prone" cx="247.4" cy="210.7" r="2.05"/><circle class="prone" cx="253.9" cy="209.7" r="2.05"/><circle class="prone" cx="252.0" cy="215.3" r="2.05"/><circle class="prone" cx="248.3" cy="201.4" r="2.05"/><circle class="prone" cx="239.6" cy="188.7" r="2.05"/><circle class="prone" cx="252.9" cy="184.6" r="2.05"/><circle class="prone" cx="145.0" cy="200.0" r="2.05"/><circle class="prone" cx="141.0" cy="212.0" r="2.05"/><line x1="75" y1="205" x2="253.9" y2="214.9" stroke="#00003a" stroke-width="1.45"/><circle class="read" cx="159.5" cy="156.5" r="2.05"/><circle class="read" cx="158.0" cy="166.0" r="2.05"/><circle class="read" cx="145.0" cy="172.0" r="2.05"/><circle class="read" cx="143.0" cy="175.0" r="2.05"/><circle class="read" cx="159.0" cy="192.0" r="2.05"/><circle class="read" cx="157.9" cy="208.9" r="2.05"/><circle class="read" cx="161.3" cy="210.0" r="2.05"/><circle class="read" cx="140.0" cy="185.0" r="2.05"/><circle class="read" cx="151.0" cy="187.0" r="2.05"/><circle class="read" cx="144.9" cy="180.4" r="2.05"/><circle class="read" cx="151.9" cy="184.9" r="2.05"/><circle class="read" cx="145.1" cy="179.5" r="2.05"/><circle class="read" cx="144.3" cy="176.6" r="2.05"/><circle class="read" cx="149.3" cy="166.5" r="2.05"/><circle class="read" cx="150.2" cy="189.3" r="2.05"/><circle class="read" cx="157.5" cy="169.4" r="2.05"/><circle class="read" cx="155.0" cy="189.1" r="2.05"/><circle class="read" cx="147.3" cy="160.8" r="2.05"/><circle class="read" cx="145.8" cy="178.6" r="2.05"/><circle class="read" cx="156.2" cy="176.8" r="2.05"/><circle class="read" cx="149.0" cy="186.2" r="2.05"/><line x1="142.5" y1="184.5" x2="149" y2="186" stroke="#ff00cc" stroke-width="1.45"/><circle class="right" cx="162.0" cy="187.0" r="2.05"/><circle class="right" cx="163.0" cy="196.0" r="2.05"/><circle class="right" cx="163.0" cy="200.0" r="2.05"/><circle class="right" cx="136.0" cy="198.0" r="2.05"/><circle class="right" cx="162.9" cy="201.1" r="2.05"/><circle class="right" cx="148.4" cy="236.8" r="2.05"/><circle class="right" cx="147.9" cy="241.3" r="2.05"/><circle class="right" cx="161.0" cy="184.0" r="2.05"/><circle class="right" cx="146.0" cy="225.0" r="2.05"/><circle class="right" cx="161.8" cy="186.0" r="2.05"/><circle class="right" cx="161.3" cy="185.8" r="2.05"/><circle class="right" cx="165.2" cy="191.6" r="2.05"/><circle class="right" cx="165.0" cy="186.0" r="2.05"/><circle class="right" cx="160.6" cy="187.2" r="2.05"/><circle class="right" cx="160.2" cy="189.4" r="2.05"/><circle class="right" cx="165.3" cy="202.1" r="2.05"/><circle class="right" cx="162.4" cy="194.5" r="2.05"/><circle class="right" cx="147.6" cy="239.4" r="2.05"/><circle class="right" cx="148.8" cy="238.4" r="2.05"/><circle class="right" cx="151.8" cy="238.2" r="2.05"/><circle class="right" cx="148.4" cy="237.1" r="2.05"/><line x1="136.2" y1="232.9" x2="164" y2="214" stroke="#ffcc00" stroke-width="1.45"/><circle class="ss1" cx="142.3" cy="227.9" r="2.05"/><circle class="ss1" cx="150.0" cy="173.0" r="2.05"/><circle class="ss1" cx="147.0" cy="215.0" r="2.05"/><circle class="ss1" cx="139.0" cy="225.0" r="2.05"/><circle class="ss1" cx="141.1" cy="211.4" r="2.05"/><circle class="ss1" cx="142.5" cy="194.9" r="2.05"/><circle class="ss1" cx="147.2" cy="205.1" r="2.05"/><circle class="ss1" cx="143.2" cy="195.7" r="2.05"/><circle class="ss1" cx="146.5" cy="217.7" r="2.05"/><circle class="ss1" cx="150.6" cy="203.0" r="2.05"/><circle class="ss1" cx="147.1" cy="191.3" r="2.05"/><circle class="ss1" cx="143.9" cy="212.7" r="2.05"/><circle class="ss2" cx="145.0" cy="190.0" r="2.05"/><circle class="ss2" cx="141.0" cy="205.0" r="2.05"/><circle class="ss2" cx="155.0" cy="215.0" r="2.05"/><circle class="ss2" cx="155.5" cy="191.6" r="2.05"/><circle class="ss2" cx="157.1" cy="215.1" r="2.05"/><circle class="ss2" cx="145.8" cy="207.8" r="2.05"/><circle class="ss2" cx="147.9" cy="217.3" r="2.05"/><circle class="ss2" cx="158.0" cy="199.3" r="2.05"/><circle class="ss2" cx="146.0" cy="211.7" r="2.05"/><circle class="ss3" cx="148.0" cy="157.0" r="2.05"/><circle class="ss3" cx="146.0" cy="180.0" r="2.05"/><circle class="ss3" cx="150.0" cy="196.0" r="2.05"/><circle class="ss3" cx="144.0" cy="205.0" r="2.05"/><circle class="ss3" cx="147.0" cy="205.3" r="2.05"/><circle class="ss3" cx="149.4" cy="201.3" r="2.05"/><circle class="ss3" cx="153.7" cy="188.6" r="2.05"/><circle class="ss3" cx="148.2" cy="177.1" r="2.05"/><circle class="ss3" cx="147.9" cy="205.4" r="2.05"/><circle class="ss3" cx="153.1" cy="213.2" r="2.05"/><line x1="137.3" y1="226.8" x2="153" y2="175" stroke="#c05050" stroke-width="1.45"/><circle class="ss4" cx="156.0" cy="157.5" r="2.05"/><circle class="ss4" cx="157.0" cy="161.0" r="2.05"/><circle class="ss4" cx="155.0" cy="168.0" r="2.05"/><circle class="ss4" cx="154.0" cy="170.0" r="2.05"/><circle class="ss4" cx="157.0" cy="173.0" r="2.05"/><circle class="ss4" cx="158.0" cy="175.0" r="2.05"/><circle class="ss4" cx="152.0" cy="185.0" r="2.05"/><circle class="ss4" cx="149.0" cy="192.0" r="2.05"/><circle class="ss4" cx="155.0" cy="195.0" r="2.05"/><circle class="ss4" cx="146.0" cy="205.0" r="2.05"/><circle class="ss4" cx="151.0" cy="210.0" r="2.05"/><circle class="ss4" cx="144.0" cy="215.0" r="2.05"/><circle class="ss4" cx="139.0" cy="200.0" r="2.05"/><circle class="ss4" cx="143.0" cy="186.0" r="2.05"/><circle class="ss4" cx="153.0" cy="178.0" r="2.05"/><circle class="ss4" cx="149.2" cy="159.5" r="2.05"/><circle class="ss4" cx="152.4" cy="173.7" r="2.05"/><circle class="ss4" cx="158.5" cy="195.6" r="2.05"/><circle class="ss4" cx="157.3" cy="176.3" r="2.05"/><circle class="ss4" cx="154.5" cy="159.0" r="2.05"/><circle class="ss4" cx="141.2" cy="191.8" r="2.05"/><circle class="ss4" cx="151.0" cy="191.1" r="2.05"/><circle class="ss4" cx="157.1" cy="196.4" r="2.05"/><circle class="ss4" cx="145.8" cy="185.6" r="2.05"/><circle class="ss4" cx="151.6" cy="175.4" r="2.05"/><circle class="ss4" cx="150.8" cy="199.7" r="2.05"/><circle class="ss4" cx="151.6" cy="174.4" r="2.05"/><circle class="ss4" cx="143.3" cy="196.6" r="2.05"/><circle class="ss4" cx="152.4" cy="197.2" r="2.05"/><circle class="ss4" cx="144.1" cy="174.6" r="2.05"/><circle class="ss4" cx="148.0" cy="197.7" r="2.05"/><circle class="ss4" cx="141.1" cy="175.4" r="2.05"/><circle class="ss4" cx="147.3" cy="166.5" r="2.05"/><circle class="ss4" cx="150.3" cy="161.8" r="2.05"/><circle class="ss4" cx="151.6" cy="163.6" r="2.05"/><circle class="ss4" cx="152.6" cy="164.5" r="2.05"/><circle class="ss4" cx="153.5" cy="165.1" r="2.05"/><circle class="ss4" cx="158.0" cy="169.7" r="2.05"/><circle class="ss4" cx="155.3" cy="166.9" r="2.05"/><circle class="ss4" cx="156.3" cy="158.5" r="2.05"/><circle class="ss4" cx="154.3" cy="164.9" r="2.05"/><circle class="ss4" cx="156.5" cy="171.1" r="2.05"/><circle class="ss4" cx="153.6" cy="158.2" r="2.05"/><circle class="ss4" cx="148.5" cy="199.3" r="2.05"/><circle class="ss4" cx="146.7" cy="210.6" r="2.05"/><circle class="ss4" cx="144.6" cy="202.2" r="2.05"/><circle class="ss4" cx="151.8" cy="200.7" r="2.05"/><circle class="ss4" cx="140.5" cy="204.9" r="2.05"/><circle class="ss4" cx="145.1" cy="206.9" r="2.05"/><line x1="144" y1="204" x2="155" y2="176.5" stroke="#00ffc0" stroke-width="1.45"/><circle class="sup" cx="155.7" cy="242.4" r="2.05"/><circle class="sup" cx="159.0" cy="242.4" r="2.05"/><circle class="sup" cx="157.9" cy="246.8" r="2.05"/><circle class="sup" cx="161.0" cy="246.8" r="2.05"/><circle class="sup" cx="163.5" cy="249.0" r="2.05"/><circle class="sup" cx="165.2" cy="246.8" r="2.05"/><circle class="sup" cx="166.8" cy="248.0" r="2.05"/><circle class="sup" cx="165.7" cy="251.3" r="2.05"/><circle class="sup" cx="162.4" cy="251.3" r="2.05"/><circle class="sup" cx="159.5" cy="244.0" r="2.05"/><circle class="sup" cx="152.0" cy="222.0" r="2.05"/><circle class="sup" cx="147.0" cy="212.0" r="2.05"/><circle class="sup" cx="153.3" cy="219.0" r="2.05"/><circle class="sup" cx="153.8" cy="203.7" r="2.05"/><circle class="sup" cx="147.3" cy="211.0" r="2.05"/><circle class="sup" cx="149.8" cy="219.3" r="2.05"/><circle class="sup" cx="143.8" cy="216.3" r="2.05"/><line x1="150.1" y1="230.7" x2="158.5" y2="241.8" stroke="#108898" stroke-width="1.45"/><circle class="ubt" cx="150.0" cy="205.0" r="2.05"/><circle class="ubt" cx="145.0" cy="198.0" r="2.05"/><circle class="ubt" cx="140.0" cy="210.0" r="2.05"/><circle class="ubt" cx="144.0" cy="197.8" r="2.05"/><circle class="ubt" cx="152.1" cy="182.6" r="2.05"/><circle class="ubt" cx="147.6" cy="199.0" r="2.05"/><circle class="ubt" cx="146.4" cy="209.8" r="2.05"/><circle class="ubt" cx="149.5" cy="183.7" r="2.05"/><circle class="ubt" cx="157.1" cy="206.3" r="2.05"/><circle class="ubt" cx="156.4" cy="206.2" r="2.05"/><circle class="ubt" cx="155.9" cy="177.7" r="2.05"/><line x1="136" y1="225" x2="157" y2="176" stroke="#000090" stroke-width="1.45"/><circle class="walk" cx="132.4" cy="231.6" r="2.05"/><circle class="walk" cx="132.8" cy="231.8" r="2.05"/><circle class="walk" cx="155.7" cy="215.6" r="2.05"/><circle class="walk" cx="140.0" cy="222.0" r="2.05"/><circle class="walk" cx="143.0" cy="230.0" r="2.05"/><circle class="walk" cx="146.0" cy="226.0" r="2.05"/><circle class="walk" cx="141.0" cy="236.0" r="2.05"/><circle class="walk" cx="148.0" cy="218.0" r="2.05"/><circle class="walk" cx="143.8" cy="224.2" r="2.05"/><circle class="walk" cx="148.8" cy="210.6" r="2.05"/><circle class="walk" cx="144.3" cy="232.1" r="2.05"/><circle class="walk" cx="144.4" cy="228.4" r="2.05"/><circle class="walk" cx="151.5" cy="235.4" r="2.05"/><circle class="walk" cx="147.6" cy="226.1" r="2.05"/><circle class="walk" cx="149.8" cy="214.5" r="2.05"/><circle class="walk" cx="141.3" cy="208.5" r="2.05"/><circle class="walk" cx="150.2" cy="219.0" r="2.05"/><circle class="walk" cx="144.1" cy="208.9" r="2.05"/><circle class="walk" cx="147.7" cy="213.5" r="2.05"/><circle class="walk" cx="147.8" cy="216.4" r="2.05"/><circle class="walk" cx="140.1" cy="211.1" r="2.05"/><circle class="walk" cx="140.6" cy="217.1" r="2.05"/><circle class="walk" cx="143.7" cy="229.6" r="2.05"/><circle class="walk" cx="140.5" cy="233.0" r="2.05"/><circle class="walk" cx="145.8" cy="211.2" r="2.05"/><circle class="walk" cx="142.5" cy="218.4" r="2.05"/><line x1="132.8" y1="257.4" x2="151" y2="220" stroke="#66cc33" stroke-width="1.45"/><path d="M44.3 156.7V257.4H255.7" fill="none" stroke="#949494" stroke-width="0.95"/><line x1="44.30" y1="257.4" x2="44.30" y2="255.89999999999998" stroke="#8a8a8a" stroke-width="0.8"/><text x="44.30" y="266.70" text-anchor="middle" font-size="7.2" fill="#666">0</text><line x1="79.53" y1="257.4" x2="79.53" y2="255.89999999999998" stroke="#8a8a8a" stroke-width="0.8"/><text x="79.53" y="266.70" text-anchor="middle" font-size="7.2" fill="#666">2</text><line x1="114.77" y1="257.4" x2="114.77" y2="255.89999999999998" stroke="#8a8a8a" stroke-width="0.8"/><text x="114.77" y="266.70" text-anchor="middle" font-size="7.2" fill="#666">4</text><line x1="150.00" y1="257.4" x2="150.00" y2="255.89999999999998" stroke="#8a8a8a" stroke-width="0.8"/><text x="150.00" y="266.70" text-anchor="middle" font-size="7.2" fill="#666">6</text><line x1="185.23" y1="257.4" x2="185.23" y2="255.89999999999998" stroke="#8a8a8a" stroke-width="0.8"/><text x="185.23" y="266.70" text-anchor="middle" font-size="7.2" fill="#666">8</text><line x1="220.47" y1="257.4" x2="220.47" y2="255.89999999999998" stroke="#8a8a8a" stroke-width="0.8"/><text x="220.47" y="266.70" text-anchor="middle" font-size="7.2" fill="#666">10</text><line x1="255.70" y1="257.4" x2="255.70" y2="255.89999999999998" stroke="#8a8a8a" stroke-width="0.8"/><text x="255.70" y="266.70" text-anchor="middle" font-size="7.2" fill="#666">12</text><line x1="44.3" y1="257.40" x2="45.8" y2="257.40" stroke="#8a8a8a" stroke-width="0.8"/><text x="41.50" y="259.90" text-anchor="end" font-size="7.2" fill="#666">0</text><line x1="44.3" y1="237.26" x2="45.8" y2="237.26" stroke="#8a8a8a" stroke-width="0.8"/><text x="41.50" y="239.76" text-anchor="end" font-size="7.2" fill="#666">0.2</text><line x1="44.3" y1="217.12" x2="45.8" y2="217.12" stroke="#8a8a8a" stroke-width="0.8"/><text x="41.50" y="219.62" text-anchor="end" font-size="7.2" fill="#666">0.4</text><line x1="44.3" y1="196.98" x2="45.8" y2="196.98" stroke="#8a8a8a" stroke-width="0.8"/><text x="41.50" y="199.48" text-anchor="end" font-size="7.2" fill="#666">0.6</text><line x1="44.3" y1="176.84" x2="45.8" y2="176.84" stroke="#8a8a8a" stroke-width="0.8"/><text x="41.50" y="179.34" text-anchor="end" font-size="7.2" fill="#666">0.8</text><line x1="44.3" y1="156.70" x2="45.8" y2="156.70" stroke="#8a8a8a" stroke-width="0.8"/><text x="41.50" y="159.20" text-anchor="end" font-size="7.2" fill="#666">1</text><text x="150.00" y="151.80" text-anchor="middle" font-size="8" font-weight="bold" fill="#222">Subject 3</text><text x="150.00" y="278.10" text-anchor="middle" font-size="8.0" fill="#222">Force (Newtons)</text><text transform="translate(17.40,207.05) rotate(-90)" text-anchor="middle" font-size="8.4" fill="#222">Microphone Output Normalized</text><text transform="translate(27.60,207.05) rotate(-90)" text-anchor="middle" font-size="8.4" fill="#222">by maximum (No Units)</text><line x1="299.20" y1="156.8" x2="299.20" y2="257.4" stroke="#f6f6f6" stroke-width="0.5"/><line x1="307.97" y1="156.8" x2="307.97" y2="257.4" stroke="#f6f6f6" stroke-width="0.5"/><line x1="316.75" y1="156.8" x2="316.75" y2="257.4" stroke="#f6f6f6" stroke-width="0.5"/><line x1="325.52" y1="156.8" x2="325.52" y2="257.4" stroke="#f6f6f6" stroke-width="0.5"/><line x1="334.30" y1="156.8" x2="334.30" y2="257.4" stroke="#f6f6f6" stroke-width="0.5"/><line x1="343.07" y1="156.8" x2="343.07" y2="257.4" stroke="#f6f6f6" stroke-width="0.5"/><line x1="351.85" y1="156.8" x2="351.85" y2="257.4" stroke="#f6f6f6" stroke-width="0.5"/><line x1="360.62" y1="156.8" x2="360.62" y2="257.4" stroke="#f6f6f6" stroke-width="0.5"/><line x1="369.40" y1="156.8" x2="369.40" y2="257.4" stroke="#f6f6f6" stroke-width="0.5"/><line x1="378.18" y1="156.8" x2="378.18" y2="257.4" stroke="#f6f6f6" stroke-width="0.5"/><line x1="386.95" y1="156.8" x2="386.95" y2="257.4" stroke="#f6f6f6" stroke-width="0.5"/><line x1="395.73" y1="156.8" x2="395.73" y2="257.4" stroke="#f6f6f6" stroke-width="0.5"/><line x1="404.50" y1="156.8" x2="404.50" y2="257.4" stroke="#f6f6f6" stroke-width="0.5"/><line x1="413.27" y1="156.8" x2="413.27" y2="257.4" stroke="#f6f6f6" stroke-width="0.5"/><line x1="422.05" y1="156.8" x2="422.05" y2="257.4" stroke="#f6f6f6" stroke-width="0.5"/><line x1="430.82" y1="156.8" x2="430.82" y2="257.4" stroke="#f6f6f6" stroke-width="0.5"/><line x1="439.60" y1="156.8" x2="439.60" y2="257.4" stroke="#f6f6f6" stroke-width="0.5"/><line x1="448.38" y1="156.8" x2="448.38" y2="257.4" stroke="#f6f6f6" stroke-width="0.5"/><line x1="457.15" y1="156.8" x2="457.15" y2="257.4" stroke="#f6f6f6" stroke-width="0.5"/><line x1="465.93" y1="156.8" x2="465.93" y2="257.4" stroke="#f6f6f6" stroke-width="0.5"/><line x1="474.70" y1="156.8" x2="474.70" y2="257.4" stroke="#f6f6f6" stroke-width="0.5"/><line x1="483.48" y1="156.8" x2="483.48" y2="257.4" stroke="#f6f6f6" stroke-width="0.5"/><line x1="492.25" y1="156.8" x2="492.25" y2="257.4" stroke="#f6f6f6" stroke-width="0.5"/><line x1="501.02" y1="156.8" x2="501.02" y2="257.4" stroke="#f6f6f6" stroke-width="0.5"/><line x1="509.80" y1="156.8" x2="509.80" y2="257.4" stroke="#f6f6f6" stroke-width="0.5"/><line x1="299.2" y1="257.40" x2="509.8" y2="257.40" stroke="#f6f6f6" stroke-width="0.5"/><line x1="299.2" y1="252.37" x2="509.8" y2="252.37" stroke="#f6f6f6" stroke-width="0.5"/><line x1="299.2" y1="247.34" x2="509.8" y2="247.34" stroke="#f6f6f6" stroke-width="0.5"/><line x1="299.2" y1="242.31" x2="509.8" y2="242.31" stroke="#f6f6f6" stroke-width="0.5"/><line x1="299.2" y1="237.28" x2="509.8" y2="237.28" stroke="#f6f6f6" stroke-width="0.5"/><line x1="299.2" y1="232.25" x2="509.8" y2="232.25" stroke="#f6f6f6" stroke-width="0.5"/><line x1="299.2" y1="227.22" x2="509.8" y2="227.22" stroke="#f6f6f6" stroke-width="0.5"/><line x1="299.2" y1="222.19" x2="509.8" y2="222.19" stroke="#f6f6f6" stroke-width="0.5"/><line x1="299.2" y1="217.16" x2="509.8" y2="217.16" stroke="#f6f6f6" stroke-width="0.5"/><line x1="299.2" y1="212.13" x2="509.8" y2="212.13" stroke="#f6f6f6" stroke-width="0.5"/><line x1="299.2" y1="207.10" x2="509.8" y2="207.10" stroke="#f6f6f6" stroke-width="0.5"/><line x1="299.2" y1="202.07" x2="509.8" y2="202.07" stroke="#f6f6f6" stroke-width="0.5"/><line x1="299.2" y1="197.04" x2="509.8" y2="197.04" stroke="#f6f6f6" stroke-width="0.5"/><line x1="299.2" y1="192.01" x2="509.8" y2="192.01" stroke="#f6f6f6" stroke-width="0.5"/><line x1="299.2" y1="186.98" x2="509.8" y2="186.98" stroke="#f6f6f6" stroke-width="0.5"/><line x1="299.2" y1="181.95" x2="509.8" y2="181.95" stroke="#f6f6f6" stroke-width="0.5"/><line x1="299.2" y1="176.92" x2="509.8" y2="176.92" stroke="#f6f6f6" stroke-width="0.5"/><line x1="299.2" y1="171.89" x2="509.8" y2="171.89" stroke="#f6f6f6" stroke-width="0.5"/><line x1="299.2" y1="166.86" x2="509.8" y2="166.86" stroke="#f6f6f6" stroke-width="0.5"/><line x1="299.2" y1="161.83" x2="509.8" y2="161.83" stroke="#f6f6f6" stroke-width="0.5"/><line x1="299.2" y1="156.80" x2="509.8" y2="156.80" stroke="#f6f6f6" stroke-width="0.5"/><line x1="299.20" y1="156.8" x2="299.20" y2="257.4" stroke="#eeeeee" stroke-width="0.6"/><line x1="334.30" y1="156.8" x2="334.30" y2="257.4" stroke="#eeeeee" stroke-width="0.6"/><line x1="369.40" y1="156.8" x2="369.40" y2="257.4" stroke="#eeeeee" stroke-width="0.6"/><line x1="404.50" y1="156.8" x2="404.50" y2="257.4" stroke="#eeeeee" stroke-width="0.6"/><line x1="439.60" y1="156.8" x2="439.60" y2="257.4" stroke="#eeeeee" stroke-width="0.6"/><line x1="474.70" y1="156.8" x2="474.70" y2="257.4" stroke="#eeeeee" stroke-width="0.6"/><line x1="509.80" y1="156.8" x2="509.80" y2="257.4" stroke="#eeeeee" stroke-width="0.6"/><line x1="299.2" y1="257.40" x2="509.8" y2="257.40" stroke="#eeeeee" stroke-width="0.6"/><line x1="299.2" y1="237.28" x2="509.8" y2="237.28" stroke="#eeeeee" stroke-width="0.6"/><line x1="299.2" y1="217.16" x2="509.8" y2="217.16" stroke="#eeeeee" stroke-width="0.6"/><line x1="299.2" y1="197.04" x2="509.8" y2="197.04" stroke="#eeeeee" stroke-width="0.6"/><line x1="299.2" y1="176.92" x2="509.8" y2="176.92" stroke="#eeeeee" stroke-width="0.6"/><line x1="299.2" y1="156.80" x2="509.8" y2="156.80" stroke="#eeeeee" stroke-width="0.6"/><circle class="arms" cx="376.6" cy="236.0" r="2.05"/><circle class="arms" cx="446.9" cy="157.2" r="2.05"/><circle class="arms" cx="376.7" cy="236.6" r="2.05"/><circle class="arms" cx="414.6" cy="226.2" r="2.05"/><circle class="arms" cx="420.0" cy="210.0" r="2.05"/><circle class="arms" cx="435.0" cy="195.0" r="2.05"/><circle class="arms" cx="383.9" cy="214.9" r="2.05"/><circle class="arms" cx="396.6" cy="206.1" r="2.05"/><circle class="arms" cx="396.2" cy="199.0" r="2.05"/><circle class="arms" cx="397.4" cy="201.9" r="2.05"/><circle class="arms" cx="398.0" cy="207.8" r="2.05"/><circle class="arms" cx="398.5" cy="191.3" r="2.05"/><line x1="380" y1="225.8" x2="451.5" y2="194.6" stroke="#0000ff" stroke-width="1.45"/><circle class="bend" cx="367.0" cy="226.0" r="2.05"/><circle class="bend" cx="368.6" cy="229.0" r="2.05"/><circle class="bend" cx="370.0" cy="232.0" r="2.05"/><circle class="bend" cx="365.0" cy="235.0" r="2.05"/><circle class="bend" cx="370.0" cy="238.0" r="2.05"/><circle class="bend" cx="433.0" cy="156.7" r="2.05"/><circle class="bend" cx="434.5" cy="168.6" r="2.05"/><circle class="bend" cx="431.5" cy="184.2" r="2.05"/><circle class="bend" cx="403.3" cy="188.7" r="2.05"/><circle class="bend" cx="402.5" cy="193.9" r="2.05"/><circle class="bend" cx="437.0" cy="178.0" r="2.05"/><circle class="bend" cx="408.6" cy="214.4" r="2.05"/><circle class="bend" cx="391.0" cy="215.2" r="2.05"/><circle class="bend" cx="390.8" cy="223.8" r="2.05"/><circle class="bend" cx="391.6" cy="206.5" r="2.05"/><circle class="bend" cx="408.8" cy="210.3" r="2.05"/><line x1="368" y1="234" x2="437.5" y2="171.6" stroke="#ff0000" stroke-width="1.45"/><circle class="left" cx="385.0" cy="195.0" r="2.05"/><circle class="left" cx="384.7" cy="194.6" r="2.05"/><circle class="left" cx="443.4" cy="172.3" r="2.05"/><circle class="left" cx="438.4" cy="220.3" r="2.05"/><circle class="left" cx="436.9" cy="227.7" r="2.05"/><circle class="left" cx="439.0" cy="223.0" r="2.05"/><circle class="left" cx="420.0" cy="205.0" r="2.05"/><circle class="left" cx="388.9" cy="202.2" r="2.05"/><circle class="left" cx="399.8" cy="202.0" r="2.05"/><circle class="left" cx="396.6" cy="224.0" r="2.05"/><circle class="left" cx="390.6" cy="224.2" r="2.05"/><circle class="left" cx="404.8" cy="211.8" r="2.05"/><circle class="left" cx="400.9" cy="210.9" r="2.05"/><circle class="left" cx="397.9" cy="217.8" r="2.05"/><circle class="left" cx="401.4" cy="215.1" r="2.05"/><circle class="left" cx="439.1" cy="225.1" r="2.05"/><circle class="left" cx="438.0" cy="223.5" r="2.05"/><circle class="left" cx="436.3" cy="225.7" r="2.05"/><circle class="left" cx="438.8" cy="225.5" r="2.05"/><circle class="left" cx="438.0" cy="218.7" r="2.05"/><circle class="left" cx="438.3" cy="226.7" r="2.05"/><line x1="382.3" y1="219" x2="453.7" y2="186.8" stroke="#00ee00" stroke-width="1.45"/><circle class="prone" cx="311.0" cy="160.4" r="2.05"/><circle class="prone" cx="342.4" cy="164.0" r="2.05"/><circle class="prone" cx="323.4" cy="174.0" r="2.05"/><circle class="prone" cx="317.6" cy="178.0" r="2.05"/><circle class="prone" cx="328.6" cy="181.0" r="2.05"/><circle class="prone" cx="329.4" cy="184.0" r="2.05"/><circle class="prone" cx="336.0" cy="185.6" r="2.05"/><circle class="prone" cx="332.0" cy="190.4" r="2.05"/><circle class="prone" cx="332.0" cy="195.6" r="2.05"/><circle class="prone" cx="341.6" cy="198.0" r="2.05"/><circle class="prone" cx="354.4" cy="207.4" r="2.05"/><circle class="prone" cx="353.0" cy="213.0" r="2.05"/><circle class="prone" cx="368.6" cy="207.4" r="2.05"/><circle class="prone" cx="369.4" cy="212.0" r="2.05"/><circle class="prone" cx="364.2" cy="218.0" r="2.05"/><circle class="prone" cx="330.6" cy="228.4" r="2.05"/><circle class="prone" cx="342.6" cy="231.6" r="2.05"/><circle class="prone" cx="355.0" cy="233.6" r="2.05"/><circle class="prone" cx="359.4" cy="234.4" r="2.05"/><circle class="prone" cx="375.0" cy="244.0" r="2.05"/><circle class="prone" cx="378.4" cy="221.0" r="2.05"/><circle class="prone" cx="380.6" cy="225.6" r="2.05"/><circle class="prone" cx="387.0" cy="235.0" r="2.05"/><circle class="prone" cx="387.0" cy="240.0" r="2.05"/><circle class="prone" cx="374.5" cy="244.0" r="2.05"/><circle class="prone" cx="386.4" cy="239.6" r="2.05"/><circle class="prone" cx="386.4" cy="234.4" r="2.05"/><circle class="prone" cx="378.2" cy="235.9" r="2.05"/><circle class="prone" cx="447.3" cy="241.1" r="2.05"/><circle class="prone" cx="419.1" cy="241.1" r="2.05"/><circle class="prone" cx="479.1" cy="156.8" r="2.05"/><circle class="prone" cx="483.1" cy="181.9" r="2.05"/><circle class="prone" cx="489.5" cy="178.6" r="2.05"/><circle class="prone" cx="490.0" cy="200.5" r="2.05"/><circle class="prone" cx="500.0" cy="204.5" r="2.05"/><circle class="prone" cx="458.5" cy="226.3" r="2.05"/><circle class="prone" cx="447.6" cy="241.4" r="2.05"/><circle class="prone" cx="451.8" cy="240.1" r="2.05"/><line x1="310.6" y1="205.6" x2="500" y2="221.9" stroke="#00003a" stroke-width="1.45"/><circle class="read" cx="381.0" cy="212.0" r="2.05"/><circle class="read" cx="385.0" cy="203.0" r="2.05"/><circle class="read" cx="399.5" cy="156.7" r="2.05"/><circle class="read" cx="451.6" cy="173.0" r="2.05"/><circle class="read" cx="452.3" cy="177.5" r="2.05"/><circle class="read" cx="399.5" cy="183.5" r="2.05"/><circle class="read" cx="386.2" cy="202.8" r="2.05"/><circle class="read" cx="380.4" cy="213.6" r="2.05"/><circle class="read" cx="378.0" cy="210.0" r="2.05"/><circle class="read" cx="452.7" cy="182.3" r="2.05"/><circle class="read" cx="451.8" cy="173.2" r="2.05"/><circle class="read" cx="425.0" cy="205.0" r="2.05"/><circle class="read" cx="440.0" cy="190.0" r="2.05"/><circle class="read" cx="450.0" cy="171.0" r="2.05"/><circle class="read" cx="452.0" cy="178.0" r="2.05"/><circle class="read" cx="447.0" cy="175.0" r="2.05"/><circle class="read" cx="401.4" cy="194.2" r="2.05"/><circle class="read" cx="403.5" cy="187.4" r="2.05"/><circle class="read" cx="397.2" cy="191.7" r="2.05"/><circle class="read" cx="397.6" cy="198.2" r="2.05"/><circle class="read" cx="405.7" cy="187.1" r="2.05"/><circle class="read" cx="408.1" cy="195.1" r="2.05"/><circle class="read" cx="390.4" cy="204.6" r="2.05"/><circle class="read" cx="390.8" cy="198.1" r="2.05"/><circle class="read" cx="445.1" cy="185.5" r="2.05"/><circle class="read" cx="449.2" cy="179.5" r="2.05"/><circle class="read" cx="449.3" cy="176.2" r="2.05"/><circle class="read" cx="448.2" cy="175.4" r="2.05"/><circle class="read" cx="454.7" cy="177.0" r="2.05"/><line x1="378" y1="212.6" x2="453.6" y2="186" stroke="#ff00cc" stroke-width="1.45"/><circle class="right" cx="445.8" cy="212.8" r="2.05"/><circle class="right" cx="445.0" cy="221.8" r="2.05"/><circle class="right" cx="399.7" cy="236.6" r="2.05"/><circle class="right" cx="445.5" cy="216.0" r="2.05"/><circle class="right" cx="445.5" cy="220.5" r="2.05"/><circle class="right" cx="430.0" cy="218.0" r="2.05"/><circle class="right" cx="446.6" cy="220.6" r="2.05"/><circle class="right" cx="446.6" cy="219.5" r="2.05"/><circle class="right" cx="447.7" cy="217.7" r="2.05"/><circle class="right" cx="447.0" cy="220.2" r="2.05"/><circle class="right" cx="442.4" cy="217.9" r="2.05"/><circle class="right" cx="443.9" cy="212.3" r="2.05"/><circle class="right" cx="446.9" cy="217.6" r="2.05"/><circle class="right" cx="441.3" cy="216.2" r="2.05"/><circle class="right" cx="400.7" cy="234.2" r="2.05"/><circle class="right" cx="406.9" cy="232.4" r="2.05"/><circle class="right" cx="401.6" cy="232.6" r="2.05"/><circle class="right" cx="409.6" cy="228.9" r="2.05"/><circle class="right" cx="409.5" cy="230.0" r="2.05"/><circle class="right" cx="408.8" cy="227.8" r="2.05"/><line x1="400" y1="235" x2="446" y2="215" stroke="#ffcc00" stroke-width="1.45"/><circle class="ss1" cx="450.9" cy="209.5" r="2.05"/><circle class="ss1" cx="405.0" cy="225.0" r="2.05"/><circle class="ss1" cx="415.0" cy="220.0" r="2.05"/><circle class="ss1" cx="396.8" cy="223.3" r="2.05"/><circle class="ss1" cx="408.7" cy="213.3" r="2.05"/><circle class="ss1" cx="396.9" cy="210.6" r="2.05"/><circle class="ss1" cx="396.3" cy="217.5" r="2.05"/><circle class="ss1" cx="408.0" cy="217.7" r="2.05"/><circle class="ss1" cx="411.5" cy="211.2" r="2.05"/><circle class="ss1" cx="408.5" cy="226.3" r="2.05"/><circle class="ss1" cx="402.6" cy="228.8" r="2.05"/><circle class="ss1" cx="406.4" cy="208.7" r="2.05"/><circle class="ss1" cx="450.0" cy="203.3" r="2.05"/><circle class="ss1" cx="451.0" cy="213.7" r="2.05"/><circle class="ss1" cx="450.2" cy="207.1" r="2.05"/><circle class="ss1" cx="447.8" cy="213.9" r="2.05"/><circle class="ss1" cx="444.7" cy="212.7" r="2.05"/><line x1="389" y1="221.4" x2="458" y2="201.3" stroke="#006400" stroke-width="1.45"/><circle class="ss2" cx="454.5" cy="189.5" r="2.05"/><circle class="ss2" cx="455.0" cy="194.0" r="2.05"/><circle class="ss2" cx="456.4" cy="198.6" r="2.05"/><circle class="ss2" cx="413.0" cy="208.0" r="2.05"/><circle class="ss2" cx="420.0" cy="200.0" r="2.05"/><circle class="ss2" cx="448.8" cy="181.4" r="2.05"/><circle class="ss2" cx="446.9" cy="192.0" r="2.05"/><circle class="ss2" cx="457.0" cy="192.9" r="2.05"/><circle class="ss2" cx="453.4" cy="187.1" r="2.05"/><circle class="ss2" cx="450.5" cy="189.0" r="2.05"/><circle class="ss2" cx="456.9" cy="195.8" r="2.05"/><circle class="ss2" cx="451.0" cy="195.9" r="2.05"/><circle class="ss2" cx="454.7" cy="199.0" r="2.05"/><circle class="ss2" cx="417.2" cy="195.2" r="2.05"/><circle class="ss2" cx="404.7" cy="201.1" r="2.05"/><circle class="ss2" cx="402.5" cy="212.0" r="2.05"/><circle class="ss2" cx="402.8" cy="199.1" r="2.05"/><circle class="ss2" cx="405.6" cy="213.8" r="2.05"/><line x1="385" y1="224" x2="460" y2="190" stroke="#7b7bff" stroke-width="1.45"/><circle class="ss3" cx="366.0" cy="236.0" r="2.05"/><circle class="ss3" cx="420.0" cy="215.0" r="2.05"/><circle class="ss3" cx="430.0" cy="205.0" r="2.05"/><circle class="ss3" cx="409.5" cy="226.6" r="2.05"/><circle class="ss3" cx="409.7" cy="225.3" r="2.05"/><circle class="ss3" cx="392.3" cy="229.5" r="2.05"/><circle class="ss3" cx="395.0" cy="221.9" r="2.05"/><circle class="ss3" cx="394.7" cy="222.5" r="2.05"/><circle class="ss3" cx="391.3" cy="214.6" r="2.05"/><line x1="364.5" y1="238" x2="449.2" y2="196.8" stroke="#c05050" stroke-width="1.45"/><circle class="ss4" cx="388.6" cy="184.0" r="2.05"/><circle class="ss4" cx="388.4" cy="184.2" r="2.05"/><circle class="ss4" cx="447.9" cy="177.5" r="2.05"/><circle class="ss4" cx="445.0" cy="182.0" r="2.05"/><circle class="ss4" cx="407.2" cy="238.1" r="2.05"/><circle class="ss4" cx="411.6" cy="241.0" r="2.05"/><circle class="ss4" cx="410.0" cy="243.0" r="2.05"/><circle class="ss4" cx="400.0" cy="220.0" r="2.05"/><circle class="ss4" cx="425.0" cy="210.0" r="2.05"/><circle class="ss4" cx="396.6" cy="228.9" r="2.05"/><circle class="ss4" cx="413.0" cy="215.7" r="2.05"/><circle class="ss4" cx="395.7" cy="219.2" r="2.05"/><circle class="ss4" cx="409.2" cy="219.9" r="2.05"/><circle class="ss4" cx="412.3" cy="205.3" r="2.05"/><circle class="ss4" cx="404.5" cy="210.8" r="2.05"/><circle class="ss4" cx="403.9" cy="227.7" r="2.05"/><circle class="ss4" cx="411.4" cy="207.4" r="2.05"/><circle class="ss4" cx="411.9" cy="223.5" r="2.05"/><circle class="ss4" cx="396.2" cy="202.4" r="2.05"/><circle class="ss4" cx="405.3" cy="219.1" r="2.05"/><circle class="ss4" cx="405.9" cy="221.3" r="2.05"/><circle class="ss4" cx="406.2" cy="203.8" r="2.05"/><circle class="ss4" cx="397.0" cy="202.4" r="2.05"/><circle class="ss4" cx="465.5" cy="197.8" r="2.05"/><circle class="ss4" cx="465.1" cy="194.8" r="2.05"/><circle class="ss4" cx="456.7" cy="192.5" r="2.05"/><circle class="ss4" cx="454.3" cy="199.5" r="2.05"/><circle class="ss4" cx="463.7" cy="202.6" r="2.05"/><circle class="ss4" cx="463.9" cy="195.7" r="2.05"/><circle class="ss4" cx="458.6" cy="192.8" r="2.05"/><circle class="ss4" cx="463.3" cy="192.6" r="2.05"/><circle class="ss4" cx="462.2" cy="199.4" r="2.05"/><circle class="ss4" cx="457.1" cy="202.7" r="2.05"/><line x1="404.6" y1="232.5" x2="460" y2="200" stroke="#00ffc0" stroke-width="1.45"/><circle class="sup" cx="419.0" cy="236.6" r="2.05"/><circle class="sup" cx="422.0" cy="238.0" r="2.05"/><circle class="sup" cx="425.0" cy="240.0" r="2.05"/><circle class="sup" cx="429.5" cy="242.6" r="2.05"/><circle class="sup" cx="421.0" cy="242.0" r="2.05"/><circle class="sup" cx="427.0" cy="238.0" r="2.05"/><circle class="sup" cx="466.4" cy="193.2" r="2.05"/><circle class="sup" cx="465.5" cy="201.4" r="2.05"/><circle class="sup" cx="464.0" cy="203.0" r="2.05"/><circle class="sup" cx="458.0" cy="194.0" r="2.05"/><circle class="sup" cx="415.0" cy="225.0" r="2.05"/><circle class="sup" cx="405.0" cy="228.0" r="2.05"/><circle class="sup" cx="424.9" cy="235.4" r="2.05"/><circle class="sup" cx="420.0" cy="237.7" r="2.05"/><circle class="sup" cx="412.9" cy="240.9" r="2.05"/><circle class="sup" cx="424.1" cy="240.5" r="2.05"/><circle class="sup" cx="418.0" cy="239.1" r="2.05"/><circle class="sup" cx="412.0" cy="239.6" r="2.05"/><circle class="sup" cx="423.1" cy="235.9" r="2.05"/><circle class="sup" cx="425.5" cy="239.6" r="2.05"/><circle class="sup" cx="453.3" cy="196.2" r="2.05"/><circle class="sup" cx="456.2" cy="200.9" r="2.05"/><circle class="sup" cx="451.8" cy="197.2" r="2.05"/><circle class="sup" cx="460.5" cy="197.9" r="2.05"/><circle class="sup" cx="455.8" cy="198.7" r="2.05"/><circle class="sup" cx="449.9" cy="202.7" r="2.05"/><circle class="sup" cx="409.5" cy="227.7" r="2.05"/><circle class="sup" cx="412.0" cy="218.5" r="2.05"/><circle class="sup" cx="403.3" cy="223.0" r="2.05"/><circle class="sup" cx="410.2" cy="226.9" r="2.05"/><circle class="sup" cx="411.7" cy="232.0" r="2.05"/><circle class="sup" cx="396.9" cy="221.9" r="2.05"/><circle class="sup" cx="403.5" cy="222.7" r="2.05"/><circle class="sup" cx="410.5" cy="210.7" r="2.05"/><line x1="391.2" y1="232.5" x2="467" y2="198" stroke="#108898" stroke-width="1.45"/><circle class="ubt" cx="386.6" cy="191.0" r="2.05"/><circle class="ubt" cx="439.0" cy="156.7" r="2.05"/><circle class="ubt" cx="447.0" cy="156.7" r="2.05"/><circle class="ubt" cx="440.4" cy="166.4" r="2.05"/><circle class="ubt" cx="439.7" cy="174.5" r="2.05"/><circle class="ubt" cx="407.0" cy="179.0" r="2.05"/><circle class="ubt" cx="410.0" cy="181.2" r="2.05"/><circle class="ubt" cx="410.7" cy="183.5" r="2.05"/><circle class="ubt" cx="386.9" cy="182.0" r="2.05"/><circle class="ubt" cx="386.9" cy="190.0" r="2.05"/><circle class="ubt" cx="392.1" cy="193.9" r="2.05"/><circle class="ubt" cx="388.4" cy="198.3" r="2.05"/><circle class="ubt" cx="397.3" cy="192.4" r="2.05"/><circle class="ubt" cx="395.0" cy="195.0" r="2.05"/><circle class="ubt" cx="388.6" cy="198.7" r="2.05"/><circle class="ubt" cx="389.4" cy="191.1" r="2.05"/><circle class="ubt" cx="403.0" cy="186.4" r="2.05"/><line x1="386" y1="205.6" x2="443" y2="184" stroke="#000090" stroke-width="1.45"/><circle class="walk" cx="410.7" cy="188.0" r="2.05"/><circle class="walk" cx="393.8" cy="206.9" r="2.05"/><circle class="walk" cx="396.0" cy="212.0" r="2.05"/><circle class="walk" cx="398.0" cy="218.0" r="2.05"/><circle class="walk" cx="399.7" cy="226.2" r="2.05"/><circle class="walk" cx="394.0" cy="222.0" r="2.05"/><circle class="walk" cx="400.0" cy="210.0" r="2.05"/><circle class="walk" cx="405.0" cy="200.0" r="2.05"/><circle class="walk" cx="406.5" cy="216.6" r="2.05"/><circle class="walk" cx="406.3" cy="227.4" r="2.05"/><circle class="walk" cx="407.7" cy="220.5" r="2.05"/><circle class="walk" cx="404.4" cy="228.0" r="2.05"/><circle class="walk" cx="402.9" cy="224.5" r="2.05"/><circle class="walk" cx="406.6" cy="210.6" r="2.05"/><circle class="walk" cx="407.4" cy="219.0" r="2.05"/><circle class="walk" cx="400.1" cy="231.6" r="2.05"/><circle class="walk" cx="398.4" cy="232.0" r="2.05"/><circle class="walk" cx="397.9" cy="215.5" r="2.05"/><circle class="walk" cx="409.0" cy="213.3" r="2.05"/><circle class="walk" cx="398.4" cy="218.8" r="2.05"/><line x1="386.8" y1="217" x2="449" y2="188" stroke="#66cc33" stroke-width="1.45"/><path d="M299.2 156.8V257.4H509.8" fill="none" stroke="#949494" stroke-width="0.95"/><line x1="299.20" y1="257.4" x2="299.20" y2="255.89999999999998" stroke="#8a8a8a" stroke-width="0.8"/><text x="299.20" y="266.70" text-anchor="middle" font-size="7.2" fill="#666">0</text><line x1="334.30" y1="257.4" x2="334.30" y2="255.89999999999998" stroke="#8a8a8a" stroke-width="0.8"/><text x="334.30" y="266.70" text-anchor="middle" font-size="7.2" fill="#666">2</text><line x1="369.40" y1="257.4" x2="369.40" y2="255.89999999999998" stroke="#8a8a8a" stroke-width="0.8"/><text x="369.40" y="266.70" text-anchor="middle" font-size="7.2" fill="#666">4</text><line x1="404.50" y1="257.4" x2="404.50" y2="255.89999999999998" stroke="#8a8a8a" stroke-width="0.8"/><text x="404.50" y="266.70" text-anchor="middle" font-size="7.2" fill="#666">6</text><line x1="439.60" y1="257.4" x2="439.60" y2="255.89999999999998" stroke="#8a8a8a" stroke-width="0.8"/><text x="439.60" y="266.70" text-anchor="middle" font-size="7.2" fill="#666">8</text><line x1="474.70" y1="257.4" x2="474.70" y2="255.89999999999998" stroke="#8a8a8a" stroke-width="0.8"/><text x="474.70" y="266.70" text-anchor="middle" font-size="7.2" fill="#666">10</text><line x1="509.80" y1="257.4" x2="509.80" y2="255.89999999999998" stroke="#8a8a8a" stroke-width="0.8"/><text x="509.80" y="266.70" text-anchor="middle" font-size="7.2" fill="#666">12</text><line x1="299.2" y1="257.40" x2="300.7" y2="257.40" stroke="#8a8a8a" stroke-width="0.8"/><text x="296.40" y="259.90" text-anchor="end" font-size="7.2" fill="#666">0</text><line x1="299.2" y1="237.28" x2="300.7" y2="237.28" stroke="#8a8a8a" stroke-width="0.8"/><text x="296.40" y="239.78" text-anchor="end" font-size="7.2" fill="#666">0.2</text><line x1="299.2" y1="217.16" x2="300.7" y2="217.16" stroke="#8a8a8a" stroke-width="0.8"/><text x="296.40" y="219.66" text-anchor="end" font-size="7.2" fill="#666">0.4</text><line x1="299.2" y1="197.04" x2="300.7" y2="197.04" stroke="#8a8a8a" stroke-width="0.8"/><text x="296.40" y="199.54" text-anchor="end" font-size="7.2" fill="#666">0.6</text><line x1="299.2" y1="176.92" x2="300.7" y2="176.92" stroke="#8a8a8a" stroke-width="0.8"/><text x="296.40" y="179.42" text-anchor="end" font-size="7.2" fill="#666">0.8</text><line x1="299.2" y1="156.80" x2="300.7" y2="156.80" stroke="#8a8a8a" stroke-width="0.8"/><text x="296.40" y="159.30" text-anchor="end" font-size="7.2" fill="#666">1</text><text x="404.50" y="151.90" text-anchor="middle" font-size="8" font-weight="bold" fill="#222">Subject 4</text><text x="404.50" y="278.10" text-anchor="middle" font-size="8.0" fill="#222">Force (Newtons)</text><text transform="translate(272.30,207.10) rotate(-90)" text-anchor="middle" font-size="8.4" fill="#222">Microphone Output Normalized</text><text transform="translate(282.50,207.10) rotate(-90)" text-anchor="middle" font-size="8.4" fill="#222">by maximum (No Units)</text><line x1="44.60" y1="297.0" x2="44.60" y2="397.1" stroke="#f6f6f6" stroke-width="0.5"/><line x1="49.87" y1="297.0" x2="49.87" y2="397.1" stroke="#f6f6f6" stroke-width="0.5"/><line x1="55.15" y1="297.0" x2="55.15" y2="397.1" stroke="#f6f6f6" stroke-width="0.5"/><line x1="60.42" y1="297.0" x2="60.42" y2="397.1" stroke="#f6f6f6" stroke-width="0.5"/><line x1="65.69" y1="297.0" x2="65.69" y2="397.1" stroke="#f6f6f6" stroke-width="0.5"/><line x1="70.96" y1="297.0" x2="70.96" y2="397.1" stroke="#f6f6f6" stroke-width="0.5"/><line x1="76.24" y1="297.0" x2="76.24" y2="397.1" stroke="#f6f6f6" stroke-width="0.5"/><line x1="81.51" y1="297.0" x2="81.51" y2="397.1" stroke="#f6f6f6" stroke-width="0.5"/><line x1="86.78" y1="297.0" x2="86.78" y2="397.1" stroke="#f6f6f6" stroke-width="0.5"/><line x1="92.05" y1="297.0" x2="92.05" y2="397.1" stroke="#f6f6f6" stroke-width="0.5"/><line x1="97.33" y1="297.0" x2="97.33" y2="397.1" stroke="#f6f6f6" stroke-width="0.5"/><line x1="102.60" y1="297.0" x2="102.60" y2="397.1" stroke="#f6f6f6" stroke-width="0.5"/><line x1="107.87" y1="297.0" x2="107.87" y2="397.1" stroke="#f6f6f6" stroke-width="0.5"/><line x1="113.14" y1="297.0" x2="113.14" y2="397.1" stroke="#f6f6f6" stroke-width="0.5"/><line x1="118.42" y1="297.0" x2="118.42" y2="397.1" stroke="#f6f6f6" stroke-width="0.5"/><line x1="123.69" y1="297.0" x2="123.69" y2="397.1" stroke="#f6f6f6" stroke-width="0.5"/><line x1="128.96" y1="297.0" x2="128.96" y2="397.1" stroke="#f6f6f6" stroke-width="0.5"/><line x1="134.23" y1="297.0" x2="134.23" y2="397.1" stroke="#f6f6f6" stroke-width="0.5"/><line x1="139.50" y1="297.0" x2="139.50" y2="397.1" stroke="#f6f6f6" stroke-width="0.5"/><line x1="144.78" y1="297.0" x2="144.78" y2="397.1" stroke="#f6f6f6" stroke-width="0.5"/><line x1="150.05" y1="297.0" x2="150.05" y2="397.1" stroke="#f6f6f6" stroke-width="0.5"/><line x1="155.32" y1="297.0" x2="155.32" y2="397.1" stroke="#f6f6f6" stroke-width="0.5"/><line x1="160.60" y1="297.0" x2="160.60" y2="397.1" stroke="#f6f6f6" stroke-width="0.5"/><line x1="165.87" y1="297.0" x2="165.87" y2="397.1" stroke="#f6f6f6" stroke-width="0.5"/><line x1="171.14" y1="297.0" x2="171.14" y2="397.1" stroke="#f6f6f6" stroke-width="0.5"/><line x1="176.41" y1="297.0" x2="176.41" y2="397.1" stroke="#f6f6f6" stroke-width="0.5"/><line x1="181.68" y1="297.0" x2="181.68" y2="397.1" stroke="#f6f6f6" stroke-width="0.5"/><line x1="186.96" y1="297.0" x2="186.96" y2="397.1" stroke="#f6f6f6" stroke-width="0.5"/><line x1="192.23" y1="297.0" x2="192.23" y2="397.1" stroke="#f6f6f6" stroke-width="0.5"/><line x1="197.50" y1="297.0" x2="197.50" y2="397.1" stroke="#f6f6f6" stroke-width="0.5"/><line x1="202.78" y1="297.0" x2="202.78" y2="397.1" stroke="#f6f6f6" stroke-width="0.5"/><line x1="208.05" y1="297.0" x2="208.05" y2="397.1" stroke="#f6f6f6" stroke-width="0.5"/><line x1="213.32" y1="297.0" x2="213.32" y2="397.1" stroke="#f6f6f6" stroke-width="0.5"/><line x1="218.59" y1="297.0" x2="218.59" y2="397.1" stroke="#f6f6f6" stroke-width="0.5"/><line x1="223.87" y1="297.0" x2="223.87" y2="397.1" stroke="#f6f6f6" stroke-width="0.5"/><line x1="229.14" y1="297.0" x2="229.14" y2="397.1" stroke="#f6f6f6" stroke-width="0.5"/><line x1="234.41" y1="297.0" x2="234.41" y2="397.1" stroke="#f6f6f6" stroke-width="0.5"/><line x1="239.68" y1="297.0" x2="239.68" y2="397.1" stroke="#f6f6f6" stroke-width="0.5"/><line x1="244.96" y1="297.0" x2="244.96" y2="397.1" stroke="#f6f6f6" stroke-width="0.5"/><line x1="250.23" y1="297.0" x2="250.23" y2="397.1" stroke="#f6f6f6" stroke-width="0.5"/><line x1="255.50" y1="297.0" x2="255.50" y2="397.1" stroke="#f6f6f6" stroke-width="0.5"/><line x1="44.6" y1="397.10" x2="255.5" y2="397.10" stroke="#f6f6f6" stroke-width="0.5"/><line x1="44.6" y1="392.10" x2="255.5" y2="392.10" stroke="#f6f6f6" stroke-width="0.5"/><line x1="44.6" y1="387.09" x2="255.5" y2="387.09" stroke="#f6f6f6" stroke-width="0.5"/><line x1="44.6" y1="382.09" x2="255.5" y2="382.09" stroke="#f6f6f6" stroke-width="0.5"/><line x1="44.6" y1="377.08" x2="255.5" y2="377.08" stroke="#f6f6f6" stroke-width="0.5"/><line x1="44.6" y1="372.08" x2="255.5" y2="372.08" stroke="#f6f6f6" stroke-width="0.5"/><line x1="44.6" y1="367.07" x2="255.5" y2="367.07" stroke="#f6f6f6" stroke-width="0.5"/><line x1="44.6" y1="362.06" x2="255.5" y2="362.06" stroke="#f6f6f6" stroke-width="0.5"/><line x1="44.6" y1="357.06" x2="255.5" y2="357.06" stroke="#f6f6f6" stroke-width="0.5"/><line x1="44.6" y1="352.06" x2="255.5" y2="352.06" stroke="#f6f6f6" stroke-width="0.5"/><line x1="44.6" y1="347.05" x2="255.5" y2="347.05" stroke="#f6f6f6" stroke-width="0.5"/><line x1="44.6" y1="342.05" x2="255.5" y2="342.05" stroke="#f6f6f6" stroke-width="0.5"/><line x1="44.6" y1="337.04" x2="255.5" y2="337.04" stroke="#f6f6f6" stroke-width="0.5"/><line x1="44.6" y1="332.04" x2="255.5" y2="332.04" stroke="#f6f6f6" stroke-width="0.5"/><line x1="44.6" y1="327.03" x2="255.5" y2="327.03" stroke="#f6f6f6" stroke-width="0.5"/><line x1="44.6" y1="322.02" x2="255.5" y2="322.02" stroke="#f6f6f6" stroke-width="0.5"/><line x1="44.6" y1="317.02" x2="255.5" y2="317.02" stroke="#f6f6f6" stroke-width="0.5"/><line x1="44.6" y1="312.01" x2="255.5" y2="312.01" stroke="#f6f6f6" stroke-width="0.5"/><line x1="44.6" y1="307.01" x2="255.5" y2="307.01" stroke="#f6f6f6" stroke-width="0.5"/><line x1="44.6" y1="302.00" x2="255.5" y2="302.00" stroke="#f6f6f6" stroke-width="0.5"/><line x1="44.6" y1="297.00" x2="255.5" y2="297.00" stroke="#f6f6f6" stroke-width="0.5"/><line x1="44.60" y1="297.0" x2="44.60" y2="397.1" stroke="#eeeeee" stroke-width="0.6"/><line x1="70.96" y1="297.0" x2="70.96" y2="397.1" stroke="#eeeeee" stroke-width="0.6"/><line x1="97.33" y1="297.0" x2="97.33" y2="397.1" stroke="#eeeeee" stroke-width="0.6"/><line x1="123.69" y1="297.0" x2="123.69" y2="397.1" stroke="#eeeeee" stroke-width="0.6"/><line x1="150.05" y1="297.0" x2="150.05" y2="397.1" stroke="#eeeeee" stroke-width="0.6"/><line x1="176.41" y1="297.0" x2="176.41" y2="397.1" stroke="#eeeeee" stroke-width="0.6"/><line x1="202.78" y1="297.0" x2="202.78" y2="397.1" stroke="#eeeeee" stroke-width="0.6"/><line x1="229.14" y1="297.0" x2="229.14" y2="397.1" stroke="#eeeeee" stroke-width="0.6"/><line x1="255.50" y1="297.0" x2="255.50" y2="397.1" stroke="#eeeeee" stroke-width="0.6"/><line x1="44.6" y1="397.10" x2="255.5" y2="397.10" stroke="#eeeeee" stroke-width="0.6"/><line x1="44.6" y1="377.08" x2="255.5" y2="377.08" stroke="#eeeeee" stroke-width="0.6"/><line x1="44.6" y1="357.06" x2="255.5" y2="357.06" stroke="#eeeeee" stroke-width="0.6"/><line x1="44.6" y1="337.04" x2="255.5" y2="337.04" stroke="#eeeeee" stroke-width="0.6"/><line x1="44.6" y1="317.02" x2="255.5" y2="317.02" stroke="#eeeeee" stroke-width="0.6"/><line x1="44.6" y1="297.00" x2="255.5" y2="297.00" stroke="#eeeeee" stroke-width="0.6"/><circle class="arms" cx="92.3" cy="338.3" r="2.05"/><circle class="arms" cx="137.5" cy="336.1" r="2.05"/><circle class="arms" cx="70.8" cy="379.6" r="2.05"/><circle class="arms" cx="74.5" cy="382.6" r="2.05"/><circle class="arms" cx="78.2" cy="387.0" r="2.05"/><circle class="arms" cx="90.8" cy="384.8" r="2.05"/><circle class="arms" cx="88.6" cy="379.6" r="2.05"/><circle class="arms" cx="91.6" cy="338.0" r="2.05"/><circle class="arms" cx="100.0" cy="370.0" r="2.05"/><circle class="arms" cx="137.5" cy="348.4" r="2.05"/><circle class="arms" cx="92.5" cy="383.9" r="2.05"/><circle class="arms" cx="87.3" cy="382.3" r="2.05"/><circle class="arms" cx="89.0" cy="383.3" r="2.05"/><circle class="arms" cx="88.6" cy="377.8" r="2.05"/><circle class="arms" cx="79.6" cy="384.4" r="2.05"/><circle class="arms" cx="84.0" cy="380.5" r="2.05"/><line x1="69.3" y1="390" x2="137.5" y2="348.4" stroke="#0000ff" stroke-width="1.45"/><circle class="bend" cx="96.8" cy="325.7" r="2.05"/><circle class="bend" cx="107.2" cy="329.0" r="2.05"/><circle class="bend" cx="84.1" cy="350.6" r="2.05"/><circle class="bend" cx="83.5" cy="353.6" r="2.05"/><circle class="bend" cx="100.0" cy="360.0" r="2.05"/><circle class="bend" cx="95.0" cy="372.0" r="2.05"/><circle class="bend" cx="92.6" cy="353.2" r="2.05"/><circle class="bend" cx="85.8" cy="356.6" r="2.05"/><circle class="bend" cx="82.1" cy="347.6" r="2.05"/><circle class="bend" cx="90.5" cy="354.6" r="2.05"/><circle class="bend" cx="93.6" cy="348.5" r="2.05"/><line x1="84.1" y1="351.4" x2="119.1" y2="330.1" stroke="#ff0000" stroke-width="1.45"/><circle class="left" cx="103.2" cy="296.7" r="2.05"/><circle class="left" cx="70.0" cy="323.0" r="2.05"/><circle class="left" cx="79.7" cy="329.9" r="2.05"/><circle class="left" cx="89.4" cy="329.0" r="2.05"/><circle class="left" cx="87.1" cy="346.2" r="2.05"/><circle class="left" cx="128.6" cy="307.8" r="2.05"/><circle class="left" cx="127.1" cy="315.6" r="2.05"/><circle class="left" cx="133.8" cy="316.0" r="2.05"/><circle class="left" cx="136.8" cy="312.3" r="2.05"/><circle class="left" cx="139.0" cy="319.7" r="2.05"/><circle class="left" cx="140.5" cy="324.2" r="2.05"/><circle class="left" cx="136.0" cy="328.7" r="2.05"/><circle class="left" cx="138.0" cy="313.0" r="2.05"/><circle class="left" cx="85.0" cy="350.0" r="2.05"/><circle class="left" cx="96.0" cy="357.0" r="2.05"/><circle class="left" cx="88.0" cy="351.4" r="2.05"/><circle class="left" cx="93.9" cy="341.1" r="2.05"/><circle class="left" cx="85.4" cy="347.0" r="2.05"/><circle class="left" cx="87.0" cy="348.2" r="2.05"/><circle class="left" cx="94.5" cy="347.5" r="2.05"/><circle class="left" cx="96.4" cy="349.3" r="2.05"/><circle class="left" cx="96.7" cy="351.8" r="2.05"/><circle class="left" cx="92.2" cy="350.8" r="2.05"/><circle class="left" cx="133.4" cy="320.1" r="2.05"/><circle class="left" cx="133.8" cy="313.2" r="2.05"/><circle class="left" cx="131.8" cy="324.7" r="2.05"/><circle class="left" cx="139.9" cy="313.4" r="2.05"/><circle class="left" cx="134.9" cy="324.6" r="2.05"/><circle class="left" cx="133.3" cy="318.6" r="2.05"/><line x1="70.8" y1="366.2" x2="142.7" y2="324.2" stroke="#00ee00" stroke-width="1.45"/><circle class="prone" cx="57.4" cy="325.7" r="2.05"/><circle class="prone" cx="169.5" cy="329.0" r="2.05"/><circle class="prone" cx="175.4" cy="325.7" r="2.05"/><circle class="prone" cx="187.3" cy="333.1" r="2.05"/><circle class="prone" cx="174.7" cy="342.8" r="2.05"/><circle class="prone" cx="175.4" cy="342.4" r="2.05"/><circle class="prone" cx="182.9" cy="351.4" r="2.05"/><circle class="prone" cx="170.7" cy="329.0" r="2.05"/><circle class="prone" cx="175.7" cy="326.0" r="2.05"/><circle class="prone" cx="175.2" cy="342.8" r="2.05"/><circle class="prone" cx="183.4" cy="351.3" r="2.05"/><circle class="prone" cx="187.5" cy="333.5" r="2.05"/><circle class="prone" cx="198.0" cy="327.2" r="2.05"/><circle class="prone" cx="200.5" cy="320.8" r="2.05"/><circle class="prone" cx="207.2" cy="323.0" r="2.05"/><circle class="prone" cx="214.6" cy="323.5" r="2.05"/><circle class="prone" cx="209.9" cy="329.4" r="2.05"/><circle class="prone" cx="216.1" cy="331.2" r="2.05"/><circle class="prone" cx="219.8" cy="330.5" r="2.05"/><circle class="prone" cx="218.3" cy="335.7" r="2.05"/><circle class="prone" cx="219.8" cy="337.2" r="2.05"/><circle class="prone" cx="221.3" cy="339.4" r="2.05"/><circle class="prone" cx="225.0" cy="343.9" r="2.05"/><circle class="prone" cx="228.7" cy="347.6" r="2.05"/><circle class="prone" cx="231.0" cy="349.1" r="2.05"/><circle class="prone" cx="231.0" cy="352.0" r="2.05"/><circle class="prone" cx="228.7" cy="343.9" r="2.05"/><circle class="prone" cx="227.2" cy="329.0" r="2.05"/><circle class="prone" cx="229.5" cy="327.5" r="2.05"/><circle class="prone" cx="230.2" cy="332.0" r="2.05"/><circle class="prone" cx="233.9" cy="332.0" r="2.05"/><circle class="prone" cx="226.0" cy="346.0" r="2.05"/><circle class="prone" cx="115.4" cy="343.9" r="2.05"/><circle class="prone" cx="121.0" cy="346.0" r="2.05"/><line x1="57.4" y1="332.8" x2="234.7" y2="335.7" stroke="#00003a" stroke-width="1.45"/><circle class="read" cx="90.1" cy="379.6" r="2.05"/><circle class="read" cx="100.5" cy="378.1" r="2.05"/><circle class="read" cx="97.0" cy="381.0" r="2.05"/><circle class="read" cx="115.4" cy="372.2" r="2.05"/><circle class="read" cx="118.0" cy="374.0" r="2.05"/><circle class="read" cx="114.5" cy="372.2" r="2.05"/><circle class="read" cx="122.6" cy="371.4" r="2.05"/><circle class="read" cx="123.0" cy="373.5" r="2.05"/><circle class="read" cx="86.0" cy="376.0" r="2.05"/><circle class="read" cx="112.4" cy="371.0" r="2.05"/><circle class="read" cx="114.5" cy="371.2" r="2.05"/><circle class="read" cx="109.5" cy="370.3" r="2.05"/><circle class="read" cx="120.9" cy="374.9" r="2.05"/><circle class="read" cx="103.8" cy="371.2" r="2.05"/><circle class="read" cx="103.0" cy="377.8" r="2.05"/><circle class="read" cx="106.1" cy="372.1" r="2.05"/><circle class="read" cx="113.0" cy="372.2" r="2.05"/><circle class="read" cx="116.1" cy="376.9" r="2.05"/><circle class="read" cx="116.9" cy="374.2" r="2.05"/><circle class="right" cx="117.6" cy="296.7" r="2.05"/><circle class="right" cx="87.9" cy="331.6" r="2.05"/><circle class="right" cx="140.5" cy="309.3" r="2.05"/><circle class="right" cx="148.7" cy="321.2" r="2.05"/><circle class="right" cx="147.9" cy="325.7" r="2.05"/><circle class="right" cx="148.7" cy="330.1" r="2.05"/><circle class="right" cx="147.0" cy="333.0" r="2.05"/><circle class="right" cx="118.2" cy="296.7" r="2.05"/><circle class="right" cx="120.0" cy="346.0" r="2.05"/><circle class="right" cx="125.0" cy="342.0" r="2.05"/><circle class="right" cx="105.0" cy="357.0" r="2.05"/><circle class="right" cx="121.7" cy="341.5" r="2.05"/><circle class="right" cx="125.3" cy="352.7" r="2.05"/><circle class="right" cx="123.5" cy="345.4" r="2.05"/><circle class="right" cx="125.5" cy="337.4" r="2.05"/><circle class="right" cx="123.0" cy="345.8" r="2.05"/><circle class="right" cx="121.7" cy="340.7" r="2.05"/><circle class="right" cx="141.6" cy="319.5" r="2.05"/><circle class="right" cx="141.1" cy="318.2" r="2.05"/><circle class="right" cx="144.0" cy="318.6" r="2.05"/><circle class="right" cx="141.0" cy="323.9" r="2.05"/><circle class="right" cx="144.8" cy="323.2" r="2.05"/><circle class="right" cx="149.0" cy="327.5" r="2.05"/><line x1="100.5" y1="358.8" x2="150.1" y2="321.2" stroke="#ffcc00" stroke-width="1.45"/><circle class="ss1" cx="87.1" cy="345.4" r="2.05"/><circle class="ss1" cx="89.0" cy="354.0" r="2.05"/><circle class="ss1" cx="98.0" cy="364.0" r="2.05"/><circle class="ss1" cx="86.0" cy="351.6" r="2.05"/><circle class="ss1" cx="90.0" cy="361.0" r="2.05"/><circle class="ss1" cx="84.5" cy="354.5" r="2.05"/><circle class="ss1" cx="90.7" cy="361.4" r="2.05"/><circle class="ss1" cx="97.9" cy="360.1" r="2.05"/><circle class="ss1" cx="90.6" cy="364.2" r="2.05"/><circle class="ss1" cx="88.9" cy="365.0" r="2.05"/><circle class="ss1" cx="86.0" cy="365.2" r="2.05"/><circle class="ss2" cx="104.0" cy="362.0" r="2.05"/><circle class="ss2" cx="112.0" cy="368.0" r="2.05"/><circle class="ss2" cx="120.0" cy="356.0" r="2.05"/><circle class="ss2" cx="117.5" cy="373.0" r="2.05"/><circle class="ss2" cx="113.7" cy="360.4" r="2.05"/><circle class="ss2" cx="113.7" cy="373.0" r="2.05"/><circle class="ss2" cx="110.8" cy="368.3" r="2.05"/><circle class="ss2" cx="111.7" cy="361.5" r="2.05"/><circle class="ss2" cx="117.4" cy="357.7" r="2.05"/><circle class="ss2" cx="111.2" cy="357.1" r="2.05"/><circle class="ss2" cx="116.1" cy="373.4" r="2.05"/><circle class="ss3" cx="120.4" cy="345.8" r="2.05"/><circle class="ss3" cx="104.0" cy="352.0" r="2.05"/><circle class="ss3" cx="82.0" cy="362.0" r="2.05"/><circle class="ss3" cx="100.4" cy="361.9" r="2.05"/><circle class="ss3" cx="109.8" cy="366.8" r="2.05"/><circle class="ss3" cx="108.4" cy="357.5" r="2.05"/><circle class="ss3" cx="109.4" cy="367.6" r="2.05"/><circle class="ss3" cx="91.5" cy="352.1" r="2.05"/><circle class="ss3" cx="102.3" cy="362.2" r="2.05"/><circle class="ss3" cx="93.8" cy="359.6" r="2.05"/><circle class="ss3" cx="95.0" cy="358.8" r="2.05"/><circle class="ss4" cx="116.0" cy="355.8" r="2.05"/><circle class="ss4" cx="119.0" cy="364.0" r="2.05"/><circle class="ss4" cx="124.9" cy="366.2" r="2.05"/><circle class="ss4" cx="105.0" cy="362.0" r="2.05"/><circle class="ss4" cx="95.0" cy="366.0" r="2.05"/><circle class="ss4" cx="88.0" cy="369.0" r="2.05"/><circle class="ss4" cx="113.5" cy="372.0" r="2.05"/><circle class="ss4" cx="95.4" cy="371.1" r="2.05"/><circle class="ss4" cx="100.8" cy="360.4" r="2.05"/><circle class="ss4" cx="99.5" cy="371.9" r="2.05"/><circle class="ss4" cx="109.4" cy="369.2" r="2.05"/><circle class="ss4" cx="105.5" cy="372.4" r="2.05"/><circle class="ss4" cx="103.5" cy="373.1" r="2.05"/><circle class="ss4" cx="91.2" cy="369.0" r="2.05"/><circle class="ss4" cx="111.4" cy="369.5" r="2.05"/><circle class="ss4" cx="106.8" cy="364.3" r="2.05"/><circle class="ss4" cx="104.6" cy="363.1" r="2.05"/><circle class="ss4" cx="94.2" cy="358.5" r="2.05"/><circle class="ss4" cx="92.1" cy="359.6" r="2.05"/><circle class="ss4" cx="106.2" cy="358.6" r="2.05"/><circle class="ss4" cx="93.4" cy="360.3" r="2.05"/><circle class="ss4" cx="107.2" cy="358.6" r="2.05"/><circle class="ss4" cx="117.5" cy="352.5" r="2.05"/><circle class="ss4" cx="114.0" cy="368.9" r="2.05"/><circle class="ss4" cx="107.3" cy="368.6" r="2.05"/><circle class="ss4" cx="109.2" cy="358.2" r="2.05"/><circle class="ss4" cx="110.9" cy="354.3" r="2.05"/><circle class="ss4" cx="116.6" cy="354.8" r="2.05"/><circle class="ss4" cx="111.8" cy="352.5" r="2.05"/><circle class="ss4" cx="96.7" cy="364.4" r="2.05"/><circle class="ss4" cx="114.1" cy="352.4" r="2.05"/><circle class="ss4" cx="101.4" cy="348.5" r="2.05"/><circle class="sup" cx="88.6" cy="317.5" r="2.05"/><circle class="sup" cx="90.8" cy="340.6" r="2.05"/><circle class="sup" cx="148.7" cy="345.0" r="2.05"/><circle class="sup" cx="109.4" cy="376.6" r="2.05"/><circle class="sup" cx="96.8" cy="357.3" r="2.05"/><circle class="sup" cx="108.0" cy="349.1" r="2.05"/><circle class="sup" cx="154.6" cy="351.4" r="2.05"/><circle class="sup" cx="157.6" cy="349.9" r="2.05"/><circle class="sup" cx="159.0" cy="349.0" r="2.05"/><circle class="sup" cx="153.9" cy="354.3" r="2.05"/><circle class="sup" cx="156.1" cy="356.6" r="2.05"/><circle class="sup" cx="148.7" cy="344.7" r="2.05"/><circle class="sup" cx="130.8" cy="358.8" r="2.05"/><circle class="sup" cx="110.0" cy="379.6" r="2.05"/><circle class="sup" cx="52.9" cy="377.4" r="2.05"/><circle class="sup" cx="104.3" cy="364.4" r="2.05"/><circle class="sup" cx="108.5" cy="372.1" r="2.05"/><circle class="sup" cx="90.8" cy="368.2" r="2.05"/><circle class="sup" cx="92.7" cy="364.4" r="2.05"/><circle class="sup" cx="87.9" cy="369.4" r="2.05"/><circle class="sup" cx="96.2" cy="363.7" r="2.05"/><circle class="sup" cx="107.6" cy="371.1" r="2.05"/><circle class="sup" cx="87.2" cy="370.8" r="2.05"/><circle class="sup" cx="94.4" cy="366.5" r="2.05"/><circle class="sup" cx="95.3" cy="363.0" r="2.05"/><circle class="sup" cx="102.3" cy="365.6" r="2.05"/><circle class="sup" cx="104.4" cy="368.2" r="2.05"/><circle class="sup" cx="152.9" cy="348.8" r="2.05"/><circle class="sup" cx="154.6" cy="353.9" r="2.05"/><circle class="sup" cx="154.5" cy="352.6" r="2.05"/><circle class="sup" cx="159.1" cy="353.3" r="2.05"/><circle class="sup" cx="159.6" cy="355.7" r="2.05"/><line x1="52.9" y1="377.4" x2="159.1" y2="353.6" stroke="#108898" stroke-width="1.45"/><circle class="ubt" cx="150.9" cy="296.7" r="2.05"/><circle class="ubt" cx="153.1" cy="304.1" r="2.05"/><circle class="ubt" cx="148.7" cy="313.0" r="2.05"/><circle class="ubt" cx="151.6" cy="317.5" r="2.05"/><circle class="ubt" cx="115.2" cy="344.3" r="2.05"/><circle class="ubt" cx="115.2" cy="344.7" r="2.05"/><circle class="ubt" cx="120.0" cy="346.0" r="2.05"/><circle class="ubt" cx="116.4" cy="353.5" r="2.05"/><circle class="ubt" cx="120.6" cy="358.0" r="2.05"/><circle class="ubt" cx="119.8" cy="346.2" r="2.05"/><circle class="ubt" cx="117.2" cy="343.9" r="2.05"/><circle class="ubt" cx="114.3" cy="341.5" r="2.05"/><circle class="ubt" cx="116.9" cy="356.8" r="2.05"/><line x1="75.2" y1="368.5" x2="153.9" y2="311.6" stroke="#000090" stroke-width="1.45"/><circle class="walk" cx="110.9" cy="333.1" r="2.05"/><circle class="walk" cx="56.6" cy="383.3" r="2.05"/><circle class="walk" cx="100.0" cy="365.0" r="2.05"/><circle class="walk" cx="115.0" cy="365.0" r="2.05"/><circle class="walk" cx="90.4" cy="363.9" r="2.05"/><circle class="walk" cx="86.2" cy="358.8" r="2.05"/><circle class="walk" cx="96.5" cy="367.5" r="2.05"/><circle class="walk" cx="96.6" cy="360.1" r="2.05"/><circle class="walk" cx="91.7" cy="360.7" r="2.05"/><circle class="walk" cx="83.2" cy="370.5" r="2.05"/><line x1="56.6" y1="388.5" x2="148.7" y2="338.3" stroke="#66cc33" stroke-width="1.45"/><path d="M44.6 297.0V397.1H255.5" fill="none" stroke="#949494" stroke-width="0.95"/><line x1="44.60" y1="397.1" x2="44.60" y2="395.6" stroke="#8a8a8a" stroke-width="0.8"/><text x="44.60" y="406.40" text-anchor="middle" font-size="7.2" fill="#666">4</text><line x1="70.96" y1="397.1" x2="70.96" y2="395.6" stroke="#8a8a8a" stroke-width="0.8"/><text x="70.96" y="406.40" text-anchor="middle" font-size="7.2" fill="#666">5</text><line x1="97.33" y1="397.1" x2="97.33" y2="395.6" stroke="#8a8a8a" stroke-width="0.8"/><text x="97.33" y="406.40" text-anchor="middle" font-size="7.2" fill="#666">6</text><line x1="123.69" y1="397.1" x2="123.69" y2="395.6" stroke="#8a8a8a" stroke-width="0.8"/><text x="123.69" y="406.40" text-anchor="middle" font-size="7.2" fill="#666">7</text><line x1="150.05" y1="397.1" x2="150.05" y2="395.6" stroke="#8a8a8a" stroke-width="0.8"/><text x="150.05" y="406.40" text-anchor="middle" font-size="7.2" fill="#666">8</text><line x1="176.41" y1="397.1" x2="176.41" y2="395.6" stroke="#8a8a8a" stroke-width="0.8"/><text x="176.41" y="406.40" text-anchor="middle" font-size="7.2" fill="#666">9</text><line x1="202.78" y1="397.1" x2="202.78" y2="395.6" stroke="#8a8a8a" stroke-width="0.8"/><text x="202.78" y="406.40" text-anchor="middle" font-size="7.2" fill="#666">10</text><line x1="229.14" y1="397.1" x2="229.14" y2="395.6" stroke="#8a8a8a" stroke-width="0.8"/><text x="229.14" y="406.40" text-anchor="middle" font-size="7.2" fill="#666">11</text><line x1="255.50" y1="397.1" x2="255.50" y2="395.6" stroke="#8a8a8a" stroke-width="0.8"/><text x="255.50" y="406.40" text-anchor="middle" font-size="7.2" fill="#666">12</text><line x1="44.6" y1="397.10" x2="46.1" y2="397.10" stroke="#8a8a8a" stroke-width="0.8"/><text x="41.80" y="399.60" text-anchor="end" font-size="7.2" fill="#666">0</text><line x1="44.6" y1="377.08" x2="46.1" y2="377.08" stroke="#8a8a8a" stroke-width="0.8"/><text x="41.80" y="379.58" text-anchor="end" font-size="7.2" fill="#666">0.2</text><line x1="44.6" y1="357.06" x2="46.1" y2="357.06" stroke="#8a8a8a" stroke-width="0.8"/><text x="41.80" y="359.56" text-anchor="end" font-size="7.2" fill="#666">0.4</text><line x1="44.6" y1="337.04" x2="46.1" y2="337.04" stroke="#8a8a8a" stroke-width="0.8"/><text x="41.80" y="339.54" text-anchor="end" font-size="7.2" fill="#666">0.6</text><line x1="44.6" y1="317.02" x2="46.1" y2="317.02" stroke="#8a8a8a" stroke-width="0.8"/><text x="41.80" y="319.52" text-anchor="end" font-size="7.2" fill="#666">0.8</text><line x1="44.6" y1="297.00" x2="46.1" y2="297.00" stroke="#8a8a8a" stroke-width="0.8"/><text x="41.80" y="299.50" text-anchor="end" font-size="7.2" fill="#666">1</text><text x="150.05" y="292.10" text-anchor="middle" font-size="8" font-weight="bold" fill="#222">Subject 5</text><text x="150.05" y="417.80" text-anchor="middle" font-size="8.0" fill="#222">Force (Newtons)</text><text transform="translate(17.70,347.05) rotate(-90)" text-anchor="middle" font-size="8.4" fill="#222">Microphone Output Normalized</text><text transform="translate(27.90,347.05) rotate(-90)" text-anchor="middle" font-size="8.4" fill="#222">by maximum (No Units)</text><rect x="263.2" y="281.4" width="247.10000000000002" height="138.70000000000005" fill="#fff" stroke="#999" stroke-width="0.8"/><circle class="arms" cx="275.8" cy="287.60" r="1.9"/><text x="288.8" y="289.50" font-size="7.75" fill="#222" letter-spacing="0.06">Arms up down side to side</text><line x1="265.3" y1="298.12" x2="286.6" y2="298.12" stroke="#0000ff" stroke-width="1.2"/><text x="288.8" y="300.02" font-size="7.75" fill="#222" letter-spacing="0.06">Line fit Arms up down side to side</text><circle class="bend" cx="275.8" cy="308.65" r="1.9"/><text x="288.8" y="310.55" font-size="7.75" fill="#222" letter-spacing="0.06">Bend forward stand up</text><line x1="265.3" y1="319.18" x2="286.6" y2="319.18" stroke="#ff0000" stroke-width="1.2"/><text x="288.8" y="321.07" font-size="7.75" fill="#222" letter-spacing="0.06">Line fit Bend forward stand up</text><circle class="left" cx="275.8" cy="329.70" r="1.9"/><text x="288.8" y="331.60" font-size="7.75" fill="#222" letter-spacing="0.06">Left Lateral</text><line x1="265.3" y1="340.23" x2="286.6" y2="340.23" stroke="#00ee00" stroke-width="1.2"/><text x="288.8" y="342.12" font-size="7.75" fill="#222" letter-spacing="0.06">Line fit Left Lateral</text><circle class="prone" cx="275.8" cy="350.75" r="1.9"/><text x="288.8" y="352.65" font-size="7.75" fill="#222" letter-spacing="0.06">Prone</text><line x1="265.3" y1="361.28" x2="286.6" y2="361.28" stroke="#00003a" stroke-width="1.2"/><text x="288.8" y="363.18" font-size="7.75" fill="#222" letter-spacing="0.06">Line fit Prone</text><circle class="read" cx="275.8" cy="371.80" r="1.9"/><text x="288.8" y="373.70" font-size="7.75" fill="#222" letter-spacing="0.06">Read paragraph</text><line x1="265.3" y1="382.33" x2="286.6" y2="382.33" stroke="#ff00cc" stroke-width="1.2"/><text x="288.8" y="384.23" font-size="7.75" fill="#222" letter-spacing="0.06">Line fit Read paragraph</text><circle class="right" cx="275.8" cy="392.85" r="1.9"/><text x="288.8" y="394.75" font-size="7.75" fill="#222" letter-spacing="0.06">Right Lateral</text><line x1="265.3" y1="403.38" x2="286.6" y2="403.38" stroke="#ffcc00" stroke-width="1.2"/><text x="288.8" y="405.27" font-size="7.75" fill="#222" letter-spacing="0.06">Line fit Right Lateral</text><circle class="ss1" cx="275.8" cy="413.90" r="1.9"/><text x="288.8" y="415.80" font-size="7.75" fill="#222" letter-spacing="0.06">Stand Still 1</text><line x1="404.2" y1="287.60" x2="425.3" y2="287.60" stroke="#006400" stroke-width="1.2"/><text x="426.9" y="289.50" font-size="7.75" fill="#222" letter-spacing="0.06">Line fit Stand Still 1</text><circle class="ss2" cx="414.8" cy="298.12" r="1.9"/><text x="426.9" y="300.02" font-size="7.75" fill="#222" letter-spacing="0.06">Stand Still 2</text><line x1="404.2" y1="308.65" x2="425.3" y2="308.65" stroke="#7b7bff" stroke-width="1.2"/><text x="426.9" y="310.55" font-size="7.75" fill="#222" letter-spacing="0.06">Line fit Stand Still 2</text><circle class="ss3" cx="414.8" cy="319.18" r="1.9"/><text x="426.9" y="321.07" font-size="7.75" fill="#222" letter-spacing="0.06">Stand Still 3</text><line x1="404.2" y1="329.70" x2="425.3" y2="329.70" stroke="#c05050" stroke-width="1.2"/><text x="426.9" y="331.60" font-size="7.75" fill="#222" letter-spacing="0.06">Line fit Stand Still 3</text><circle class="ss4" cx="414.8" cy="340.23" r="1.9"/><text x="426.9" y="342.12" font-size="7.75" fill="#222" letter-spacing="0.06">Stand Still 4</text><line x1="404.2" y1="350.75" x2="425.3" y2="350.75" stroke="#00ffc0" stroke-width="1.2"/><text x="426.9" y="352.65" font-size="7.75" fill="#222" letter-spacing="0.06">Line fit Stand Still 4</text><circle class="sup" cx="414.8" cy="361.28" r="1.9"/><text x="426.9" y="363.18" font-size="7.75" fill="#222" letter-spacing="0.06">Supine</text><line x1="404.2" y1="371.80" x2="425.3" y2="371.80" stroke="#108898" stroke-width="1.2"/><text x="426.9" y="373.70" font-size="7.75" fill="#222" letter-spacing="0.06">Line fit Supine</text><circle class="ubt" cx="414.8" cy="382.33" r="1.9"/><text x="426.9" y="384.23" font-size="7.75" fill="#222" letter-spacing="0.06">Upper body twist</text><line x1="404.2" y1="392.85" x2="425.3" y2="392.85" stroke="#000090" stroke-width="1.2"/><text x="426.9" y="394.75" font-size="7.75" fill="#222" letter-spacing="0.06">Line fit Upper body twist</text><circle class="walk" cx="414.8" cy="403.38" r="1.9"/><text x="426.9" y="405.27" font-size="7.75" fill="#222" letter-spacing="0.06">Walk in a circle</text><line x1="404.2" y1="413.90" x2="425.3" y2="413.90" stroke="#66cc33" stroke-width="1.2"/><text x="426.9" y="415.80" font-size="7.75" fill="#222" letter-spacing="0.06">Line fit Walk in a circle</text><rect x="37.5" y="462.3" width="48.80" height="16.10" fill="#68d848"/><text x="61.90" y="473.05" text-anchor="middle" font-size="7.9" fill="#111">0.0887</text><rect x="86.3" y="462.3" width="48.50" height="16.10" fill="#68d848"/><text x="110.55" y="473.05" text-anchor="middle" font-size="7.9" fill="#111">0.1164</text><rect x="134.8" y="462.3" width="35.80" height="16.10" fill="#68d848"/><text x="152.70" y="473.05" text-anchor="middle" font-size="7.9" fill="#111">0.0745</text><rect x="170.6" y="462.3" width="27.60" height="16.10" fill="#f9646a"/><text x="184.40" y="473.05" text-anchor="middle" font-size="7.9" fill="#111">−0.0043</text><rect x="198.2" y="462.3" width="40.70" height="16.10" fill="#68d848"/><text x="218.55" y="473.05" text-anchor="middle" font-size="7.9" fill="#111">0.1690</text><rect x="238.9" y="462.3" width="32.80" height="16.10" fill="#f9646a"/><text x="255.30" y="473.05" text-anchor="middle" font-size="7.9" fill="#111">−0.0049</text><rect x="271.7" y="462.3" width="32.50" height="16.10" fill="#68d848"/><text x="287.95" y="473.05" text-anchor="middle" font-size="7.9" fill="#111">0.0369</text><rect x="304.2" y="462.3" width="34.60" height="16.10" fill="#68d848"/><text x="321.50" y="473.05" text-anchor="middle" font-size="7.9" fill="#111">0.1009</text><rect x="338.8" y="462.3" width="38.20" height="16.10" fill="#68d848"/><text x="357.90" y="473.05" text-anchor="middle" font-size="7.9" fill="#111">0.1558</text><rect x="377.0" y="462.3" width="36.30" height="16.10" fill="#68d848"/><text x="395.15" y="473.05" text-anchor="middle" font-size="7.9" fill="#111">0.1803</text><rect x="413.3" y="462.3" width="39.90" height="16.10" fill="#68d848"/><text x="433.25" y="473.05" text-anchor="middle" font-size="7.9" fill="#111">0.0114</text><rect x="453.2" y="462.3" width="39.60" height="16.10" fill="#68d848"/><text x="473.00" y="473.05" text-anchor="middle" font-size="7.9" fill="#111">0.0325</text><rect x="492.8" y="462.3" width="38.80" height="16.10" fill="#68d848"/><text x="512.20" y="473.05" text-anchor="middle" font-size="7.9" fill="#111">0.0493</text><text x="21.60" y="476.70" text-anchor="middle" font-size="8" font-weight="bold" fill="#111">1</text><rect x="37.5" y="478.4" width="48.80" height="16.40" fill="#68d848"/><text x="61.90" y="489.30" text-anchor="middle" font-size="7.9" fill="#111">0.2367</text><rect x="86.3" y="478.4" width="48.50" height="16.40" fill="#f9646a"/><text x="110.55" y="489.30" text-anchor="middle" font-size="7.9" fill="#111">−0.0588</text><rect x="134.8" y="478.4" width="35.80" height="16.40" fill="#68d848"/><text x="152.70" y="489.30" text-anchor="middle" font-size="7.9" fill="#111">0.1029</text><rect x="170.6" y="478.4" width="27.60" height="16.40" fill="#68d848"/><text x="184.40" y="489.30" text-anchor="middle" font-size="7.9" fill="#111">0.0126</text><rect x="198.2" y="478.4" width="40.70" height="16.40" fill="#68d848"/><text x="218.55" y="489.30" text-anchor="middle" font-size="7.9" fill="#111">0.2567</text><rect x="238.9" y="478.4" width="32.80" height="16.40" fill="#68d848"/><text x="255.30" y="489.30" text-anchor="middle" font-size="7.9" fill="#111">0.2260</text><rect x="271.7" y="478.4" width="32.50" height="16.40" fill="#68d848"/><text x="287.95" y="489.30" text-anchor="middle" font-size="7.9" fill="#111">0.2794</text><rect x="304.2" y="478.4" width="34.60" height="16.40" fill="#68d848"/><text x="321.50" y="489.30" text-anchor="middle" font-size="7.9" fill="#111">0.2274</text><rect x="338.8" y="478.4" width="38.20" height="16.40" fill="#68d848"/><text x="357.90" y="489.30" text-anchor="middle" font-size="7.9" fill="#111">0.3133</text><rect x="377.0" y="478.4" width="36.30" height="16.40" fill="#68d848"/><text x="395.15" y="489.30" text-anchor="middle" font-size="7.9" fill="#111">0.3372</text><rect x="413.3" y="478.4" width="39.90" height="16.40" fill="#68d848"/><text x="433.25" y="489.30" text-anchor="middle" font-size="7.9" fill="#111">0.0674</text><rect x="453.2" y="478.4" width="39.60" height="16.40" fill="#f9646a"/><text x="473.00" y="489.30" text-anchor="middle" font-size="7.9" fill="#111">−0.0373</text><rect x="492.8" y="478.4" width="38.80" height="16.40" fill="#68d848"/><text x="512.20" y="489.30" text-anchor="middle" font-size="7.9" fill="#111">0.2269</text><text x="21.60" y="493.10" text-anchor="middle" font-size="8" font-weight="bold" fill="#111">2</text><rect x="37.5" y="494.8" width="48.80" height="16.30" fill="#f9646a"/><text x="61.90" y="505.65" text-anchor="middle" font-size="7.9" fill="#111">−0.1452</text><rect x="86.3" y="494.8" width="48.50" height="16.30" fill="#68d848"/><text x="110.55" y="505.65" text-anchor="middle" font-size="7.9" fill="#111">1.1214</text><rect x="134.8" y="494.8" width="35.80" height="16.30" fill="#f9646a"/><text x="152.70" y="505.65" text-anchor="middle" font-size="7.9" fill="#111">−0.1446</text><rect x="170.6" y="494.8" width="27.60" height="16.30" fill="#f9646a"/><text x="184.40" y="505.65" text-anchor="middle" font-size="7.9" fill="#111">−0.0094</text><rect x="198.2" y="494.8" width="40.70" height="16.30" fill="#f9646a"/><text x="218.55" y="505.65" text-anchor="middle" font-size="7.9" fill="#111">−0.0121</text><rect x="238.9" y="494.8" width="32.80" height="16.30" fill="#68d848"/><text x="255.30" y="505.65" text-anchor="middle" font-size="7.9" fill="#111">0.1196</text><rect x="271.7" y="494.8" width="32.50" height="16.30" fill="#68d848"/><text x="287.95" y="505.65" text-anchor="middle" font-size="7.9" fill="#111">0.8854</text><rect x="304.2" y="494.8" width="34.60" height="16.30" fill="#68d848"/><text x="321.50" y="505.65" text-anchor="middle" font-size="7.9" fill="#111">0.3255</text><rect x="338.8" y="494.8" width="38.20" height="16.30" fill="#68d848"/><text x="357.90" y="505.65" text-anchor="middle" font-size="7.9" fill="#111">0.4188</text><rect x="377.0" y="494.8" width="36.30" height="16.30" fill="#68d848"/><text x="395.15" y="505.65" text-anchor="middle" font-size="7.9" fill="#111">0.4274</text><rect x="413.3" y="494.8" width="39.90" height="16.30" fill="#f9646a"/><text x="433.25" y="505.65" text-anchor="middle" font-size="7.9" fill="#111">−0.1219</text><rect x="453.2" y="494.8" width="39.60" height="16.30" fill="#68d848"/><text x="473.00" y="505.65" text-anchor="middle" font-size="7.9" fill="#111">0.4693</text><rect x="492.8" y="494.8" width="38.80" height="16.30" fill="#68d848"/><text x="512.20" y="505.65" text-anchor="middle" font-size="7.9" fill="#111">0.4219</text><text x="21.60" y="509.40" text-anchor="middle" font-size="8" font-weight="bold" fill="#111">3</text><rect x="37.5" y="511.1" width="48.80" height="16.60" fill="#68d848"/><text x="61.90" y="522.10" text-anchor="middle" font-size="7.9" fill="#111">0.1005</text><rect x="86.3" y="511.1" width="48.50" height="16.60" fill="#68d848"/><text x="110.55" y="522.10" text-anchor="middle" font-size="7.9" fill="#111">0.1574</text><rect x="134.8" y="511.1" width="35.80" height="16.60" fill="#68d848"/><text x="152.70" y="522.10" text-anchor="middle" font-size="7.9" fill="#111">0.0133</text><rect x="170.6" y="511.1" width="27.60" height="16.60" fill="#f9646a"/><text x="184.40" y="522.10" text-anchor="middle" font-size="7.9" fill="#111">−0.0148</text><rect x="198.2" y="511.1" width="40.70" height="16.60" fill="#68d848"/><text x="218.55" y="522.10" text-anchor="middle" font-size="7.9" fill="#111">0.0818</text><rect x="238.9" y="511.1" width="32.80" height="16.60" fill="#68d848"/><text x="255.30" y="522.10" text-anchor="middle" font-size="7.9" fill="#111">0.0657</text><rect x="271.7" y="511.1" width="32.50" height="16.60" fill="#68d848"/><text x="287.95" y="522.10" text-anchor="middle" font-size="7.9" fill="#111">0.0670</text><rect x="304.2" y="511.1" width="34.60" height="16.60" fill="#68d848"/><text x="321.50" y="522.10" text-anchor="middle" font-size="7.9" fill="#111">0.0526</text><rect x="338.8" y="511.1" width="38.20" height="16.60" fill="#68d848"/><text x="357.90" y="522.10" text-anchor="middle" font-size="7.9" fill="#111">0.0894</text><rect x="377.0" y="511.1" width="36.30" height="16.60" fill="#68d848"/><text x="395.15" y="522.10" text-anchor="middle" font-size="7.9" fill="#111">0.1336</text><rect x="413.3" y="511.1" width="39.90" height="16.60" fill="#68d848"/><text x="433.25" y="522.10" text-anchor="middle" font-size="7.9" fill="#111">0.0568</text><rect x="453.2" y="511.1" width="39.60" height="16.60" fill="#68d848"/><text x="473.00" y="522.10" text-anchor="middle" font-size="7.9" fill="#111">0.0685</text><rect x="492.8" y="511.1" width="38.80" height="16.60" fill="#68d848"/><text x="512.20" y="522.10" text-anchor="middle" font-size="7.9" fill="#111">0.0811</text><text x="21.60" y="526.00" text-anchor="middle" font-size="8" font-weight="bold" fill="#111">4</text><rect x="37.5" y="527.7" width="48.80" height="16.40" fill="#68d848"/><text x="61.90" y="538.60" text-anchor="middle" font-size="7.9" fill="#111">0.1622</text><rect x="86.3" y="527.7" width="48.50" height="16.40" fill="#68d848"/><text x="110.55" y="538.60" text-anchor="middle" font-size="7.9" fill="#111">0.1727</text><rect x="134.8" y="527.7" width="35.80" height="16.40" fill="#68d848"/><text x="152.70" y="538.60" text-anchor="middle" font-size="7.9" fill="#111">0.1556</text><rect x="170.6" y="527.7" width="27.60" height="16.40" fill="#f9646a"/><text x="184.40" y="538.60" text-anchor="middle" font-size="7.9" fill="#111">−0.0053</text><rect x="198.2" y="527.7" width="40.70" height="16.40" fill="#68d848"/><text x="218.55" y="538.60" text-anchor="middle" font-size="7.9" fill="#111">0.0589</text><rect x="238.9" y="527.7" width="32.80" height="16.40" fill="#68d848"/><text x="255.30" y="538.60" text-anchor="middle" font-size="7.9" fill="#111">0.2009</text><rect x="271.7" y="527.7" width="32.50" height="16.40" fill="#68d848"/><text x="287.95" y="538.60" text-anchor="middle" font-size="7.9" fill="#111">0.0723</text><rect x="304.2" y="527.7" width="34.60" height="16.40" fill="#68d848"/><text x="321.50" y="538.60" text-anchor="middle" font-size="7.9" fill="#111">0.0585</text><rect x="338.8" y="527.7" width="38.20" height="16.40" fill="#68d848"/><text x="357.90" y="538.60" text-anchor="middle" font-size="7.9" fill="#111">0.0440</text><rect x="377.0" y="527.7" width="36.30" height="16.40" fill="#68d848"/><text x="395.15" y="538.60" text-anchor="middle" font-size="7.9" fill="#111">0.0951</text><rect x="413.3" y="527.7" width="39.90" height="16.40" fill="#68d848"/><text x="433.25" y="538.60" text-anchor="middle" font-size="7.9" fill="#111">0.0577</text><rect x="453.2" y="527.7" width="39.60" height="16.40" fill="#68d848"/><text x="473.00" y="538.60" text-anchor="middle" font-size="7.9" fill="#111">0.1795</text><rect x="492.8" y="527.7" width="38.80" height="16.40" fill="#68d848"/><text x="512.20" y="538.60" text-anchor="middle" font-size="7.9" fill="#111">0.1458</text><text x="21.60" y="542.40" text-anchor="middle" font-size="8" font-weight="bold" fill="#111">5</text><text x="21.60" y="450.70" text-anchor="middle" font-size="8.2" font-weight="normal" fill="#111">Subject</text><text x="61.90" y="441.70" text-anchor="middle" font-size="8.2" font-weight="bold" fill="#111">Arms up</text><text x="61.90" y="450.70" text-anchor="middle" font-size="8.2" font-weight="bold" fill="#111">down, side to</text><text x="61.90" y="459.70" text-anchor="middle" font-size="8.2" font-weight="bold" fill="#111">side</text><text x="110.55" y="441.70" text-anchor="middle" font-size="8.2" font-weight="bold" fill="#111">Bend</text><text x="110.55" y="450.70" text-anchor="middle" font-size="8.2" font-weight="bold" fill="#111">Forward</text><text x="110.55" y="459.70" text-anchor="middle" font-size="8.2" font-weight="bold" fill="#111">Stand up</text><text x="152.70" y="446.20" text-anchor="middle" font-size="8.2" font-weight="bold" fill="#111">Left</text><text x="152.70" y="455.20" text-anchor="middle" font-size="8.2" font-weight="bold" fill="#111">Lateral</text><text x="184.40" y="450.70" text-anchor="middle" font-size="8.2" font-weight="bold" fill="#111">Prone</text><text x="218.55" y="446.20" text-anchor="middle" font-size="8.2" font-weight="bold" fill="#111">Read</text><text x="218.55" y="455.20" text-anchor="middle" font-size="8.2" font-weight="bold" fill="#111">Paragraph</text><text x="255.30" y="446.20" text-anchor="middle" font-size="8.2" font-weight="bold" fill="#111">Right</text><text x="255.30" y="455.20" text-anchor="middle" font-size="8.2" font-weight="bold" fill="#111">Lateral</text><text x="287.95" y="446.20" text-anchor="middle" font-size="8.2" font-weight="bold" fill="#111">Stand</text><text x="287.95" y="455.20" text-anchor="middle" font-size="8.2" font-weight="bold" fill="#111">Still 1</text><text x="321.50" y="446.20" text-anchor="middle" font-size="8.2" font-weight="bold" fill="#111">Stand</text><text x="321.50" y="455.20" text-anchor="middle" font-size="8.2" font-weight="bold" fill="#111">Still 2</text><text x="357.90" y="446.20" text-anchor="middle" font-size="8.2" font-weight="bold" fill="#111">Stand</text><text x="357.90" y="455.20" text-anchor="middle" font-size="8.2" font-weight="bold" fill="#111">Still 3</text><text x="395.15" y="446.20" text-anchor="middle" font-size="8.2" font-weight="bold" fill="#111">Stand</text><text x="395.15" y="455.20" text-anchor="middle" font-size="8.2" font-weight="bold" fill="#111">Still 4</text><text x="433.25" y="450.70" text-anchor="middle" font-size="8.2" font-weight="bold" fill="#111">Supine</text><text x="473.00" y="446.20" text-anchor="middle" font-size="8.2" font-weight="bold" fill="#111">Upper</text><text x="473.00" y="455.20" text-anchor="middle" font-size="8.2" font-weight="bold" fill="#111">body twist</text><text x="512.20" y="446.20" text-anchor="middle" font-size="8.2" font-weight="bold" fill="#111">Walk in a</text><text x="512.20" y="455.20" text-anchor="middle" font-size="8.2" font-weight="bold" fill="#111">circle</text><line x1="5.7" y1="433.5" x2="5.7" y2="544.1" stroke="#333" stroke-width="1.05"/><line x1="37.5" y1="433.5" x2="37.5" y2="544.1" stroke="#333" stroke-width="1.05"/><line x1="86.3" y1="433.5" x2="86.3" y2="544.1" stroke="#333" stroke-width="1.05"/><line x1="134.8" y1="433.5" x2="134.8" y2="544.1" stroke="#333" stroke-width="1.05"/><line x1="170.6" y1="433.5" x2="170.6" y2="544.1" stroke="#333" stroke-width="1.05"/><line x1="198.2" y1="433.5" x2="198.2" y2="544.1" stroke="#333" stroke-width="1.05"/><line x1="238.9" y1="433.5" x2="238.9" y2="544.1" stroke="#333" stroke-width="1.05"/><line x1="271.7" y1="433.5" x2="271.7" y2="544.1" stroke="#333" stroke-width="1.05"/><line x1="304.2" y1="433.5" x2="304.2" y2="544.1" stroke="#333" stroke-width="1.05"/><line x1="338.8" y1="433.5" x2="338.8" y2="544.1" stroke="#333" stroke-width="1.05"/><line x1="377.0" y1="433.5" x2="377.0" y2="544.1" stroke="#333" stroke-width="1.05"/><line x1="413.3" y1="433.5" x2="413.3" y2="544.1" stroke="#333" stroke-width="1.05"/><line x1="453.2" y1="433.5" x2="453.2" y2="544.1" stroke="#333" stroke-width="1.05"/><line x1="492.8" y1="433.5" x2="492.8" y2="544.1" stroke="#333" stroke-width="1.05"/><line x1="531.6" y1="433.5" x2="531.6" y2="544.1" stroke="#333" stroke-width="1.05"/><line x1="5.7" y1="433.5" x2="531.6" y2="433.5" stroke="#333" stroke-width="1.05"/><line x1="5.7" y1="462.3" x2="531.6" y2="462.3" stroke="#333" stroke-width="1.05"/><line x1="5.7" y1="478.4" x2="531.6" y2="478.4" stroke="#333" stroke-width="1.05"/><line x1="5.7" y1="494.8" x2="531.6" y2="494.8" stroke="#333" stroke-width="1.05"/><line x1="5.7" y1="511.1" x2="531.6" y2="511.1" stroke="#333" stroke-width="1.05"/><line x1="5.7" y1="527.7" x2="531.6" y2="527.7" stroke="#333" stroke-width="1.05"/><line x1="5.7" y1="544.1" x2="531.6" y2="544.1" stroke="#333" stroke-width="1.05"/></svg>
</body></html>
